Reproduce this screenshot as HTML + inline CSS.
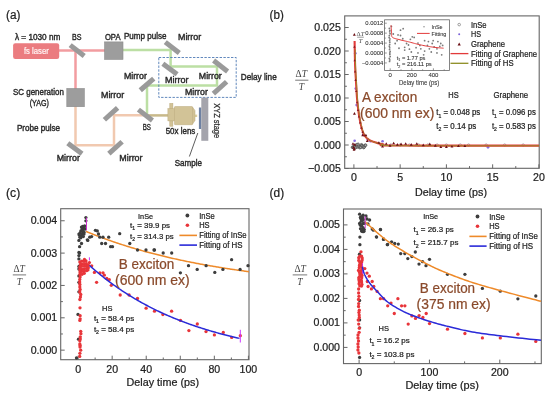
<!DOCTYPE html><html><head><meta charset="utf-8"><style>html,body{margin:0;padding:0;background:#fff;}svg{display:block;will-change:transform;}</style></head><body><svg width="550" height="395" viewBox="0 0 550 395">
<rect x="0.00" y="0.00" width="550.00" height="395.00" fill="#ffffff"/>
<text x="6.00" y="18.70" font-size="12" fill="#222" stroke="#222" stroke-width="0.22" text-anchor="start" font-family='"Liberation Sans", sans-serif' textLength="14.40" lengthAdjust="spacingAndGlyphs">(a)</text>
<line x1="59.00" y1="50.40" x2="105.00" y2="50.40" stroke="#f29ca0" stroke-width="2.5"/>
<line x1="75.50" y1="50.40" x2="75.50" y2="89.00" stroke="#f29ca0" stroke-width="2.5"/>
<polyline points="123.00,50.00 170.60,50.00 170.60,66.60 217.00,66.60 217.00,85.60 147.00,85.60 147.00,115.20" fill="none" stroke="#bcdfa4" stroke-width="2.5" stroke-linejoin="round"/>
<polyline points="75.50,106.00 75.50,145.20 114.00,145.20 114.00,115.20 146.00,115.20" fill="none" stroke="#f1c9b0" stroke-width="2.5" stroke-linejoin="round"/>
<line x1="146.00" y1="115.40" x2="168.00" y2="115.40" stroke="#c8b98a" stroke-width="2.5"/>
<rect x="13.1" y="43.3" width="46.1" height="15.6" rx="2.2" fill="#eb7c80"/>
<rect x="104.60" y="41.90" width="18.40" height="17.50" fill="#9d9d9d" stroke="#8a8a8a" stroke-width="0.6"/>
<rect x="66.80" y="88.50" width="17.50" height="18.20" fill="#9d9d9d" stroke="#8a8a8a" stroke-width="0.6"/>
<rect x="-8.90" y="-2.50" width="17.8" height="5.0" fill="#9a9a9a" transform="translate(77.20,50.60) rotate(38)"/>
<rect x="-8.90" y="-2.50" width="17.8" height="5.0" fill="#9a9a9a" transform="translate(172.30,47.60) rotate(38)"/>
<rect x="-8.90" y="-2.50" width="17.8" height="5.0" fill="#9a9a9a" transform="translate(170.00,69.00) rotate(37)"/>
<rect x="-8.90" y="-2.50" width="17.8" height="5.0" fill="#9a9a9a" transform="translate(220.60,66.00) rotate(38)"/>
<rect x="-8.90" y="-2.50" width="17.8" height="5.0" fill="#9a9a9a" transform="translate(220.00,87.70) rotate(-42)"/>
<rect x="-8.90" y="-2.50" width="17.8" height="5.0" fill="#9a9a9a" transform="translate(147.00,84.40) rotate(-41)"/>
<rect x="-8.90" y="-2.50" width="17.8" height="5.0" fill="#9a9a9a" transform="translate(145.40,115.10) rotate(38)"/>
<rect x="-8.90" y="-2.50" width="17.8" height="5.0" fill="#9a9a9a" transform="translate(111.00,113.80) rotate(-42)"/>
<rect x="-8.90" y="-2.50" width="17.8" height="5.0" fill="#9a9a9a" transform="translate(74.90,148.50) rotate(37)"/>
<rect x="-8.90" y="-2.50" width="17.8" height="5.0" fill="#9a9a9a" transform="translate(115.50,147.70) rotate(-42)"/>
<rect x="158.8" y="57.5" width="77.4" height="39.9" fill="none" stroke="#4f7bb5" stroke-width="0.9" stroke-dasharray="2.4,1.4"/>
<rect x="194.6" y="114.6" width="2.6" height="2.4" fill="#dccf9f"/>
<path d="M192.4,107.0 L195.0,110.6 L195.0,120.6 L192.4,124.2 Z" fill="#d2c397" stroke="#bba97a" stroke-width="0.5"/>
<rect x="174.4" y="106.5" width="18.2" height="18.2" rx="0.8" fill="#d2c397" stroke="#bba97a" stroke-width="0.5"/>
<rect x="169.8" y="103.4" width="3.1" height="22.8" fill="#d2c397" stroke="#bba97a" stroke-width="0.5"/>
<rect x="167.9" y="108.7" width="6.5" height="12.2" fill="#d2c397" stroke="#bba97a" stroke-width="0.5"/>
<rect x="198.90" y="107.50" width="2.40" height="21.50" fill="#6e81a2"/>
<rect x="201.30" y="97.60" width="7.00" height="43.20" fill="#a4a4ac"/>
<line x1="197.80" y1="133.00" x2="189.40" y2="156.50" stroke="#333" stroke-width="0.8"/>
<text x="14.90" y="39.70" font-size="8.4" fill="#282828" stroke="#282828" stroke-width="0.38" text-anchor="start" font-family='"Liberation Sans", sans-serif' textLength="45.50" lengthAdjust="spacingAndGlyphs">λ = 1030 nm</text>
<text x="71.90" y="39.70" font-size="8.4" fill="#282828" stroke="#282828" stroke-width="0.38" text-anchor="start" font-family='"Liberation Sans", sans-serif' textLength="9.50" lengthAdjust="spacingAndGlyphs">BS</text>
<text x="23.90" y="54.40" font-size="8.4" fill="#fff2f2" stroke="#fff2f2" stroke-width="0.22" text-anchor="start" font-family='"Liberation Sans", sans-serif' textLength="24.90" lengthAdjust="spacingAndGlyphs">fs laser</text>
<text x="104.90" y="40.30" font-size="8.4" fill="#282828" stroke="#282828" stroke-width="0.38" text-anchor="start" font-family='"Liberation Sans", sans-serif' textLength="15.60" lengthAdjust="spacingAndGlyphs">OPA</text>
<text x="124.00" y="38.60" font-size="8.4" fill="#282828" stroke="#282828" stroke-width="0.38" text-anchor="start" font-family='"Liberation Sans", sans-serif' textLength="42.40" lengthAdjust="spacingAndGlyphs">Pump pulse</text>
<text x="178.00" y="40.20" font-size="8.4" fill="#282828" stroke="#282828" stroke-width="0.38" text-anchor="start" font-family='"Liberation Sans", sans-serif' textLength="23.20" lengthAdjust="spacingAndGlyphs">Mirror</text>
<text x="164.90" y="82.70" font-size="8.4" fill="#282828" stroke="#282828" stroke-width="0.38" text-anchor="start" font-family='"Liberation Sans", sans-serif' textLength="23.50" lengthAdjust="spacingAndGlyphs">Mirror</text>
<text x="198.80" y="78.60" font-size="8.4" fill="#282828" stroke="#282828" stroke-width="0.38" text-anchor="start" font-family='"Liberation Sans", sans-serif' textLength="23.00" lengthAdjust="spacingAndGlyphs">Mirror</text>
<text x="184.90" y="94.50" font-size="8.4" fill="#282828" stroke="#282828" stroke-width="0.38" text-anchor="start" font-family='"Liberation Sans", sans-serif' textLength="23.00" lengthAdjust="spacingAndGlyphs">Mirror</text>
<text x="240.80" y="80.40" font-size="8.4" fill="#282828" stroke="#282828" stroke-width="0.38" text-anchor="start" font-family='"Liberation Sans", sans-serif' textLength="35.90" lengthAdjust="spacingAndGlyphs">Delay line</text>
<text x="123.90" y="79.00" font-size="8.4" fill="#282828" stroke="#282828" stroke-width="0.38" text-anchor="start" font-family='"Liberation Sans", sans-serif' textLength="23.00" lengthAdjust="spacingAndGlyphs">Mirror</text>
<text x="13.00" y="95.10" font-size="8.4" fill="#282828" stroke="#282828" stroke-width="0.38" text-anchor="start" font-family='"Liberation Sans", sans-serif' textLength="50.80" lengthAdjust="spacingAndGlyphs">SC generation</text>
<text x="29.70" y="106.30" font-size="8.4" fill="#282828" stroke="#282828" stroke-width="0.38" text-anchor="start" font-family='"Liberation Sans", sans-serif' textLength="19.20" lengthAdjust="spacingAndGlyphs">(YAG)</text>
<text x="101.00" y="97.80" font-size="8.4" fill="#282828" stroke="#282828" stroke-width="0.38" text-anchor="start" font-family='"Liberation Sans", sans-serif' textLength="23.20" lengthAdjust="spacingAndGlyphs">Mirror</text>
<text x="16.90" y="131.00" font-size="8.4" fill="#282828" stroke="#282828" stroke-width="0.38" text-anchor="start" font-family='"Liberation Sans", sans-serif' textLength="43.20" lengthAdjust="spacingAndGlyphs">Probe pulse</text>
<text x="142.70" y="130.30" font-size="8.4" fill="#282828" stroke="#282828" stroke-width="0.38" text-anchor="start" font-family='"Liberation Sans", sans-serif' textLength="8.20" lengthAdjust="spacingAndGlyphs">BS</text>
<text x="165.70" y="134.30" font-size="8.4" fill="#282828" stroke="#282828" stroke-width="0.38" text-anchor="start" font-family='"Liberation Sans", sans-serif' textLength="29.60" lengthAdjust="spacingAndGlyphs">50x lens</text>
<text x="0" y="0" font-size="8.4" fill="#282828" stroke="#282828" stroke-width="0.22" font-family='"Liberation Sans", sans-serif' textLength="35" lengthAdjust="spacingAndGlyphs" transform="translate(213.9,103.2) rotate(90)">XYZ stage</text>
<text x="174.70" y="165.60" font-size="8.4" fill="#282828" stroke="#282828" stroke-width="0.38" text-anchor="start" font-family='"Liberation Sans", sans-serif' textLength="27.20" lengthAdjust="spacingAndGlyphs">Sample</text>
<text x="56.70" y="161.10" font-size="8.4" fill="#282828" stroke="#282828" stroke-width="0.38" text-anchor="start" font-family='"Liberation Sans", sans-serif' textLength="23.20" lengthAdjust="spacingAndGlyphs">Mirror</text>
<text x="119.30" y="161.10" font-size="8.4" fill="#282828" stroke="#282828" stroke-width="0.38" text-anchor="start" font-family='"Liberation Sans", sans-serif' textLength="23.20" lengthAdjust="spacingAndGlyphs">Mirror</text>
<text x="269.60" y="18.90" font-size="12" fill="#222" stroke="#222" stroke-width="0.22" text-anchor="start" font-family='"Liberation Sans", sans-serif' textLength="14.20" lengthAdjust="spacingAndGlyphs">(b)</text>
<rect x="344.70" y="15.90" width="194.50" height="152.40" fill="none" stroke="#666666" stroke-width="1.1"/>
<line x1="353.90" y1="168.30" x2="353.90" y2="164.30" stroke="#666666" stroke-width="1"/>
<line x1="400.15" y1="168.30" x2="400.15" y2="164.30" stroke="#666666" stroke-width="1"/>
<line x1="446.40" y1="168.30" x2="446.40" y2="164.30" stroke="#666666" stroke-width="1"/>
<line x1="492.65" y1="168.30" x2="492.65" y2="164.30" stroke="#666666" stroke-width="1"/>
<line x1="538.90" y1="168.30" x2="538.90" y2="164.30" stroke="#666666" stroke-width="1"/>
<line x1="377.02" y1="168.30" x2="377.02" y2="166.10" stroke="#666666" stroke-width="1"/>
<line x1="423.27" y1="168.30" x2="423.27" y2="166.10" stroke="#666666" stroke-width="1"/>
<line x1="469.52" y1="168.30" x2="469.52" y2="166.10" stroke="#666666" stroke-width="1"/>
<line x1="515.77" y1="168.30" x2="515.77" y2="166.10" stroke="#666666" stroke-width="1"/>
<line x1="344.70" y1="168.50" x2="348.70" y2="168.50" stroke="#666666" stroke-width="1"/>
<line x1="344.70" y1="145.00" x2="348.70" y2="145.00" stroke="#666666" stroke-width="1"/>
<line x1="344.70" y1="121.50" x2="348.70" y2="121.50" stroke="#666666" stroke-width="1"/>
<line x1="344.70" y1="98.00" x2="348.70" y2="98.00" stroke="#666666" stroke-width="1"/>
<line x1="344.70" y1="74.50" x2="348.70" y2="74.50" stroke="#666666" stroke-width="1"/>
<line x1="344.70" y1="51.00" x2="348.70" y2="51.00" stroke="#666666" stroke-width="1"/>
<line x1="344.70" y1="27.50" x2="348.70" y2="27.50" stroke="#666666" stroke-width="1"/>
<line x1="344.70" y1="156.75" x2="346.90" y2="156.75" stroke="#666666" stroke-width="1"/>
<line x1="344.70" y1="133.25" x2="346.90" y2="133.25" stroke="#666666" stroke-width="1"/>
<line x1="344.70" y1="109.75" x2="346.90" y2="109.75" stroke="#666666" stroke-width="1"/>
<line x1="344.70" y1="86.25" x2="346.90" y2="86.25" stroke="#666666" stroke-width="1"/>
<line x1="344.70" y1="62.75" x2="346.90" y2="62.75" stroke="#666666" stroke-width="1"/>
<line x1="344.70" y1="39.25" x2="346.90" y2="39.25" stroke="#666666" stroke-width="1"/>
<text x="353.90" y="180.60" font-size="10.6" fill="#222" stroke="#222" stroke-width="0.22" text-anchor="middle" font-family='"Liberation Sans", sans-serif'>0</text>
<text x="400.15" y="180.60" font-size="10.6" fill="#222" stroke="#222" stroke-width="0.22" text-anchor="middle" font-family='"Liberation Sans", sans-serif'>5</text>
<text x="446.40" y="180.60" font-size="10.6" fill="#222" stroke="#222" stroke-width="0.22" text-anchor="middle" font-family='"Liberation Sans", sans-serif'>10</text>
<text x="492.65" y="180.60" font-size="10.6" fill="#222" stroke="#222" stroke-width="0.22" text-anchor="middle" font-family='"Liberation Sans", sans-serif'>15</text>
<text x="538.90" y="180.60" font-size="10.6" fill="#222" stroke="#222" stroke-width="0.22" text-anchor="middle" font-family='"Liberation Sans", sans-serif'>20</text>
<text x="340.80" y="172.00" font-size="10.6" fill="#222" stroke="#222" stroke-width="0.22" text-anchor="end" font-family='"Liberation Sans", sans-serif'>−0.005</text>
<text x="340.80" y="148.50" font-size="10.6" fill="#222" stroke="#222" stroke-width="0.22" text-anchor="end" font-family='"Liberation Sans", sans-serif'>0.000</text>
<text x="340.80" y="125.00" font-size="10.6" fill="#222" stroke="#222" stroke-width="0.22" text-anchor="end" font-family='"Liberation Sans", sans-serif'>0.005</text>
<text x="340.80" y="101.50" font-size="10.6" fill="#222" stroke="#222" stroke-width="0.22" text-anchor="end" font-family='"Liberation Sans", sans-serif'>0.010</text>
<text x="340.80" y="78.00" font-size="10.6" fill="#222" stroke="#222" stroke-width="0.22" text-anchor="end" font-family='"Liberation Sans", sans-serif'>0.015</text>
<text x="340.80" y="54.50" font-size="10.6" fill="#222" stroke="#222" stroke-width="0.22" text-anchor="end" font-family='"Liberation Sans", sans-serif'>0.020</text>
<text x="340.80" y="31.00" font-size="10.6" fill="#222" stroke="#222" stroke-width="0.22" text-anchor="end" font-family='"Liberation Sans", sans-serif'>0.025</text>
<text x="415.00" y="195.60" font-size="10" fill="#222" stroke="#222" stroke-width="0.22" text-anchor="start" font-family='"Liberation Sans", sans-serif' textLength="72.00" lengthAdjust="spacingAndGlyphs">Delay time (ps)</text>
<text x="301.3" y="76.6" font-size="9.5" fill="#444" text-anchor="middle" font-family='"Liberation Serif", serif'>Δ<tspan font-style="italic">T</tspan></text>
<line x1="295.20" y1="80.20" x2="308.40" y2="80.20" stroke="#555" stroke-width="0.8"/>
<text x="301.5" y="89.6" font-size="9.5" fill="#444" text-anchor="middle" font-family='"Liberation Serif", serif' font-style="italic">T</text>
<circle cx="352.45" cy="147.25" r="1.3" fill="#aaa" stroke="#444" stroke-width="0.7"/>
<circle cx="353.26" cy="147.55" r="1.3" fill="#aaa" stroke="#444" stroke-width="0.7"/>
<circle cx="353.91" cy="146.45" r="1.3" fill="#aaa" stroke="#444" stroke-width="0.7"/>
<circle cx="354.43" cy="145.91" r="1.3" fill="#aaa" stroke="#444" stroke-width="0.7"/>
<circle cx="355.12" cy="146.19" r="1.3" fill="#aaa" stroke="#444" stroke-width="0.7"/>
<circle cx="355.82" cy="147.48" r="1.3" fill="#aaa" stroke="#444" stroke-width="0.7"/>
<circle cx="356.65" cy="144.71" r="1.3" fill="#aaa" stroke="#444" stroke-width="0.7"/>
<circle cx="357.23" cy="146.98" r="1.3" fill="#aaa" stroke="#444" stroke-width="0.7"/>
<circle cx="358.11" cy="144.26" r="1.3" fill="#aaa" stroke="#444" stroke-width="0.7"/>
<circle cx="358.78" cy="146.33" r="1.3" fill="#aaa" stroke="#444" stroke-width="0.7"/>
<circle cx="359.63" cy="147.64" r="1.3" fill="#aaa" stroke="#444" stroke-width="0.7"/>
<circle cx="360.28" cy="146.73" r="1.3" fill="#aaa" stroke="#444" stroke-width="0.7"/>
<circle cx="360.71" cy="147.38" r="1.3" fill="#aaa" stroke="#444" stroke-width="0.7"/>
<circle cx="361.46" cy="144.75" r="1.3" fill="#aaa" stroke="#444" stroke-width="0.7"/>
<circle cx="362.11" cy="145.63" r="1.3" fill="#aaa" stroke="#444" stroke-width="0.7"/>
<circle cx="362.97" cy="146.42" r="1.3" fill="#aaa" stroke="#444" stroke-width="0.7"/>
<circle cx="363.63" cy="147.58" r="1.3" fill="#aaa" stroke="#444" stroke-width="0.7"/>
<circle cx="364.14" cy="147.05" r="1.3" fill="#aaa" stroke="#444" stroke-width="0.7"/>
<circle cx="365.07" cy="145.36" r="1.3" fill="#aaa" stroke="#444" stroke-width="0.7"/>
<circle cx="365.62" cy="145.19" r="1.3" fill="#aaa" stroke="#444" stroke-width="0.7"/>
<circle cx="381.65" cy="145.00" r="1.2" fill="none" stroke="#888" stroke-width="0.6"/>
<circle cx="390.90" cy="145.00" r="1.2" fill="none" stroke="#888" stroke-width="0.6"/>
<circle cx="400.15" cy="145.00" r="1.2" fill="none" stroke="#888" stroke-width="0.6"/>
<circle cx="409.40" cy="145.00" r="1.2" fill="none" stroke="#888" stroke-width="0.6"/>
<circle cx="418.65" cy="145.00" r="1.2" fill="none" stroke="#888" stroke-width="0.6"/>
<circle cx="427.90" cy="145.00" r="1.2" fill="none" stroke="#888" stroke-width="0.6"/>
<circle cx="437.15" cy="145.00" r="1.2" fill="none" stroke="#888" stroke-width="0.6"/>
<circle cx="446.40" cy="145.00" r="1.2" fill="none" stroke="#888" stroke-width="0.6"/>
<circle cx="460.27" cy="145.00" r="1.2" fill="none" stroke="#888" stroke-width="0.6"/>
<circle cx="468.60" cy="145.00" r="1.2" fill="none" stroke="#888" stroke-width="0.6"/>
<circle cx="486.17" cy="145.00" r="1.2" fill="none" stroke="#888" stroke-width="0.6"/>
<circle cx="504.67" cy="145.00" r="1.2" fill="none" stroke="#888" stroke-width="0.6"/>
<circle cx="523.17" cy="145.00" r="1.2" fill="none" stroke="#888" stroke-width="0.6"/>
<circle cx="354.64" cy="140.77" r="1.35" fill="#8a6fe0"/>
<circle cx="370.55" cy="141.24" r="1.35" fill="#8a6fe0"/>
<circle cx="382.57" cy="141.24" r="1.35" fill="#8a6fe0"/>
<circle cx="488.02" cy="147.35" r="1.35" fill="#8a6fe0"/>
<circle cx="355.75" cy="88.60" r="1.35" fill="#8a6fe0"/>
<circle cx="355.29" cy="53.35" r="1.35" fill="#8a6fe0"/>
<circle cx="356.67" cy="105.05" r="1.35" fill="#8a6fe0"/>
<circle cx="363.15" cy="134.66" r="1.35" fill="#8a6fe0"/>
<circle cx="367.77" cy="139.36" r="1.35" fill="#8a6fe0"/>
<polyline points="354.60,41.00 354.63,42.47 354.66,44.41 354.70,46.72 354.75,49.30 354.80,52.06 354.85,54.90 354.91,57.71 354.97,60.39 355.04,62.86 355.10,65.00 355.17,66.85 355.24,68.53 355.31,70.07 355.38,71.50 355.46,72.88 355.54,74.22 355.63,75.56 355.72,76.95 355.81,78.42 355.90,80.00 356.00,81.71 356.10,83.50 356.20,85.37 356.31,87.27 356.42,89.19 356.53,91.09 356.65,92.95 356.76,94.74 356.88,96.43 357.00,98.00 357.12,99.46 357.25,100.85 357.38,102.17 357.51,103.42 357.64,104.62 357.78,105.78 357.91,106.88 358.04,107.95 358.17,108.99 358.30,110.00 358.42,110.97 358.54,111.87 358.66,112.72 358.77,113.52 358.89,114.29 359.00,115.04 359.12,115.78 359.24,116.51 359.37,117.25 359.50,118.00 359.64,118.77 359.78,119.53 359.92,120.29 360.07,121.05 360.23,121.79 360.38,122.53 360.53,123.25 360.69,123.95 360.84,124.64 361.00,125.30 361.15,125.94 361.31,126.56 361.46,127.17 361.61,127.76 361.77,128.33 361.93,128.89 362.09,129.44 362.25,129.97 362.42,130.49 362.60,131.00 362.78,131.50 362.95,131.98 363.13,132.44 363.30,132.89 363.49,133.33 363.68,133.76 363.88,134.18 364.10,134.59 364.34,135.00 364.60,135.40 364.87,135.80 365.16,136.18 365.45,136.56 365.76,136.94 366.09,137.30 366.43,137.66 366.79,138.00 367.17,138.34 367.57,138.68 368.00,139.00 368.44,139.31 368.88,139.62 369.34,139.91 369.81,140.19 370.31,140.47 370.84,140.74 371.41,141.01 372.02,141.27 372.68,141.54 373.40,141.80 374.18,142.07 375.01,142.34 375.90,142.61 376.82,142.88 377.79,143.15 378.79,143.41 379.81,143.66 380.86,143.89 381.92,144.10 383.00,144.30 383.51,144.48 383.13,144.64 382.27,144.79 381.29,144.93 380.60,145.05 380.58,145.16 381.62,145.26 384.11,145.35 388.44,145.43 395.00,145.50 404.70,145.55 417.66,145.59 433.03,145.61 450.01,145.62 467.75,145.62 485.43,145.62 502.23,145.61 517.30,145.60 529.84,145.60 539.00,145.60" fill="none" stroke="#e23a3a" stroke-width="2.1" stroke-linejoin="round"/>
<polyline points="355.15,49.50 355.20,52.26 355.25,55.10 355.31,57.91 355.37,60.59 355.44,63.06 355.50,65.20 355.57,67.05 355.64,68.73 355.71,70.27 355.78,71.70 355.86,73.08 355.94,74.42 356.03,75.76 356.12,77.15 356.21,78.62 356.30,80.20 356.40,81.91 356.50,83.70 356.60,85.57 356.71,87.47 356.82,89.39 356.93,91.29 357.05,93.15 357.16,94.94 357.28,96.63 357.40,98.20 357.52,99.66 357.65,101.05 357.78,102.37 357.91,103.62 358.04,104.83 358.18,105.98 358.31,107.08 358.44,108.15 358.57,109.19 358.70,110.20 358.82,111.17 358.94,112.07 359.06,112.92 359.17,113.72 359.29,114.49 359.40,115.24 359.52,115.98 359.64,116.71 359.77,117.45 359.90,118.20 360.04,118.97 360.18,119.73 360.32,120.49 360.47,121.25 360.62,121.99 360.78,122.73 360.93,123.45 361.09,124.15 361.24,124.84 361.40,125.50 361.55,126.14 361.71,126.76 361.86,127.37 362.01,127.96 362.17,128.53 362.33,129.09 362.49,129.64 362.65,130.17 362.82,130.69 363.00,131.20 363.18,131.70 363.35,132.18 363.53,132.64 363.70,133.09 363.89,133.53 364.08,133.96 364.28,134.38 364.50,134.79 364.74,135.20 365.00,135.60 365.27,136.00 365.56,136.38 365.85,136.76 366.16,137.14 366.49,137.50 366.83,137.86 367.19,138.20 367.57,138.54 367.97,138.88 368.40,139.20 368.84,139.51 369.28,139.82 369.74,140.11 370.21,140.39 370.71,140.67 371.24,140.94 371.81,141.21 372.42,141.47 373.08,141.74 373.80,142.00 374.58,142.27 375.41,142.54 376.30,142.81 377.22,143.08 378.19,143.35 379.19,143.61 380.21,143.85 381.26,144.09 382.32,144.30 383.40,144.50 383.91,144.68 383.53,144.84 382.67,144.99 381.69,145.13 381.00,145.25 380.98,145.36 382.02,145.46 384.51,145.55 388.84,145.63 395.40,145.70 405.10,145.75 418.06,145.79 433.43,145.81 450.41,145.82 468.15,145.82 485.83,145.82 502.63,145.81 517.70,145.80 530.24,145.80 539.40,145.80" fill="none" stroke="#9a8a2a" stroke-width="1.0" stroke-linejoin="round"/>
<path d="M354.36,33.10 L355.81,35.71 L352.91,35.71 Z" fill="#6b0f14"/>
<path d="M354.45,112.06 L355.90,114.67 L353.00,114.67 Z" fill="#6b0f14"/>
<path d="M352.97,142.14 L354.42,144.75 L351.52,144.75 Z" fill="#6b0f14"/>
<path d="M353.44,145.90 L354.89,148.51 L351.99,148.51 Z" fill="#6b0f14"/>
<path d="M354.08,148.25 L355.53,150.86 L352.63,150.86 Z" fill="#6b0f14"/>
<path d="M354.36,147.31 L355.81,149.92 L352.91,149.92 Z" fill="#6b0f14"/>
<path d="M354.82,143.08 L356.27,145.69 L353.38,145.69 Z" fill="#6b0f14"/>
<path d="M362.69,133.68 L364.14,136.29 L361.24,136.29 Z" fill="#6b0f14"/>
<path d="M365.92,133.68 L367.37,136.29 L364.47,136.29 Z" fill="#6b0f14"/>
<path d="M367.31,139.32 L368.76,141.93 L365.86,141.93 Z" fill="#6b0f14"/>
<path d="M378.88,141.20 L380.32,143.81 L377.43,143.81 Z" fill="#6b0f14"/>
<path d="M382.57,144.96 L384.02,147.57 L381.12,147.57 Z" fill="#6b0f14"/>
<path d="M386.27,142.14 L387.72,144.75 L384.82,144.75 Z" fill="#6b0f14"/>
<path d="M389.97,144.02 L391.42,146.63 L388.52,146.63 Z" fill="#6b0f14"/>
<path d="M393.67,141.67 L395.12,144.28 L392.22,144.28 Z" fill="#6b0f14"/>
<path d="M397.38,143.08 L398.82,145.69 L395.93,145.69 Z" fill="#6b0f14"/>
<path d="M401.07,142.61 L402.52,145.22 L399.62,145.22 Z" fill="#6b0f14"/>
<path d="M405.70,142.14 L407.15,144.75 L404.25,144.75 Z" fill="#6b0f14"/>
<path d="M411.25,143.08 L412.70,145.69 L409.80,145.69 Z" fill="#6b0f14"/>
<path d="M416.80,142.14 L418.25,144.75 L415.35,144.75 Z" fill="#6b0f14"/>
<path d="M423.27,143.55 L424.72,146.16 L421.82,146.16 Z" fill="#6b0f14"/>
<path d="M429.75,142.61 L431.20,145.22 L428.30,145.22 Z" fill="#6b0f14"/>
<path d="M435.30,144.02 L436.75,146.63 L433.85,146.63 Z" fill="#6b0f14"/>
<path d="M440.85,145.43 L442.30,148.04 L439.40,148.04 Z" fill="#6b0f14"/>
<path d="M446.40,145.43 L447.85,148.04 L444.95,148.04 Z" fill="#6b0f14"/>
<path d="M451.95,144.96 L453.40,147.57 L450.50,147.57 Z" fill="#6b0f14"/>
<path d="M458.42,144.49 L459.87,147.10 L456.97,147.10 Z" fill="#6b0f14"/>
<path d="M464.90,144.49 L466.35,147.10 L463.45,147.10 Z" fill="#6b0f14"/>
<path d="M354.40,45.52 L355.60,47.68 L353.20,47.68 Z" fill="#8b1a20"/>
<path d="M354.67,59.19 L355.87,61.35 L353.47,61.35 Z" fill="#8b1a20"/>
<path d="M355.08,70.30 L356.28,72.46 L353.88,72.46 Z" fill="#8b1a20"/>
<path d="M355.60,78.80 L356.80,80.96 L354.40,80.96 Z" fill="#8b1a20"/>
<path d="M356.23,89.89 L357.43,92.05 L355.03,92.05 Z" fill="#8b1a20"/>
<path d="M357.08,100.97 L358.28,103.13 L355.88,103.13 Z" fill="#8b1a20"/>
<path d="M358.00,108.80 L359.20,110.96 L356.80,110.96 Z" fill="#8b1a20"/>
<path d="M358.94,115.31 L360.14,117.47 L357.74,117.47 Z" fill="#8b1a20"/>
<path d="M360.08,121.33 L361.28,123.49 L358.88,123.49 Z" fill="#8b1a20"/>
<path d="M361.31,126.56 L362.51,128.72 L360.11,128.72 Z" fill="#8b1a20"/>
<path d="M362.65,130.78 L363.85,132.94 L361.45,132.94 Z" fill="#8b1a20"/>
<path d="M364.30,134.20 L365.50,136.36 L363.10,136.36 Z" fill="#8b1a20"/>
<rect x="384.6" y="19.8" width="64.80" height="50.70" fill="#fff" stroke="#666666" stroke-width="0.8"/>
<line x1="390.20" y1="70.50" x2="390.20" y2="68.30" stroke="#666666" stroke-width="0.7"/>
<text x="390.20" y="76.70" font-size="6.0" fill="#333" stroke="#333" stroke-width="0.08" text-anchor="middle" font-family='"Liberation Sans", sans-serif'>0</text>
<line x1="411.80" y1="70.50" x2="411.80" y2="68.30" stroke="#666666" stroke-width="0.7"/>
<text x="411.80" y="76.70" font-size="6.0" fill="#333" stroke="#333" stroke-width="0.08" text-anchor="middle" font-family='"Liberation Sans", sans-serif'>200</text>
<line x1="433.40" y1="70.50" x2="433.40" y2="68.30" stroke="#666666" stroke-width="0.7"/>
<text x="433.40" y="76.70" font-size="6.0" fill="#333" stroke="#333" stroke-width="0.08" text-anchor="middle" font-family='"Liberation Sans", sans-serif'>400</text>
<line x1="401.00" y1="70.50" x2="401.00" y2="69.30" stroke="#666666" stroke-width="0.7"/>
<line x1="422.60" y1="70.50" x2="422.60" y2="69.30" stroke="#666666" stroke-width="0.7"/>
<line x1="444.20" y1="70.50" x2="444.20" y2="69.30" stroke="#666666" stroke-width="0.7"/>
<line x1="384.60" y1="23.20" x2="386.80" y2="23.20" stroke="#666666" stroke-width="0.7"/>
<text x="383.40" y="25.30" font-size="5.9" fill="#333" stroke="#333" stroke-width="0.08" text-anchor="end" font-family='"Liberation Sans", sans-serif'>0.0012</text>
<line x1="384.60" y1="33.13" x2="386.80" y2="33.13" stroke="#666666" stroke-width="0.7"/>
<text x="383.40" y="35.23" font-size="5.9" fill="#333" stroke="#333" stroke-width="0.08" text-anchor="end" font-family='"Liberation Sans", sans-serif'>0.0008</text>
<line x1="384.60" y1="43.07" x2="386.80" y2="43.07" stroke="#666666" stroke-width="0.7"/>
<text x="383.40" y="45.17" font-size="5.9" fill="#333" stroke="#333" stroke-width="0.08" text-anchor="end" font-family='"Liberation Sans", sans-serif'>0.0004</text>
<line x1="384.60" y1="53.00" x2="386.80" y2="53.00" stroke="#666666" stroke-width="0.7"/>
<text x="383.40" y="55.10" font-size="5.9" fill="#333" stroke="#333" stroke-width="0.08" text-anchor="end" font-family='"Liberation Sans", sans-serif'>0.0000</text>
<line x1="384.60" y1="62.93" x2="386.80" y2="62.93" stroke="#666666" stroke-width="0.7"/>
<text x="383.40" y="65.03" font-size="5.9" fill="#333" stroke="#333" stroke-width="0.08" text-anchor="end" font-family='"Liberation Sans", sans-serif'>−0.0004</text>
<line x1="384.60" y1="28.17" x2="385.80" y2="28.17" stroke="#666666" stroke-width="0.7"/>
<line x1="384.60" y1="38.10" x2="385.80" y2="38.10" stroke="#666666" stroke-width="0.7"/>
<line x1="384.60" y1="48.03" x2="385.80" y2="48.03" stroke="#666666" stroke-width="0.7"/>
<line x1="384.60" y1="57.97" x2="385.80" y2="57.97" stroke="#666666" stroke-width="0.7"/>
<text x="399.00" y="85.00" font-size="6.5" fill="#333" stroke="#333" stroke-width="0.08" text-anchor="start" font-family='"Liberation Sans", sans-serif' textLength="40.20" lengthAdjust="spacingAndGlyphs">Delay time (ps)</text>
<text x="360.4" y="36.0" font-size="6.5" fill="#444" text-anchor="middle" font-family='"Liberation Serif", serif'>Δ<tspan font-style="italic">T</tspan></text>
<line x1="357.20" y1="37.20" x2="363.80" y2="37.20" stroke="#555" stroke-width="0.6"/>
<text x="360.6" y="42.6" font-size="6.5" fill="#444" text-anchor="middle" font-family='"Liberation Serif", serif' font-style="italic">T</text>
<circle cx="389.36" cy="28.47" r="0.9" fill="#7a7a7a"/>
<circle cx="389.84" cy="30.43" r="0.9" fill="#7a7a7a"/>
<circle cx="389.69" cy="31.85" r="0.9" fill="#7a7a7a"/>
<circle cx="390.05" cy="33.77" r="0.9" fill="#7a7a7a"/>
<circle cx="389.35" cy="35.64" r="0.9" fill="#7a7a7a"/>
<circle cx="389.14" cy="37.54" r="0.9" fill="#7a7a7a"/>
<circle cx="389.91" cy="38.95" r="0.9" fill="#7a7a7a"/>
<circle cx="389.59" cy="40.54" r="0.9" fill="#7a7a7a"/>
<circle cx="389.80" cy="42.22" r="0.9" fill="#7a7a7a"/>
<circle cx="389.69" cy="44.41" r="0.9" fill="#7a7a7a"/>
<circle cx="389.38" cy="46.23" r="0.9" fill="#7a7a7a"/>
<circle cx="389.71" cy="47.87" r="0.9" fill="#7a7a7a"/>
<circle cx="389.55" cy="49.55" r="0.9" fill="#7a7a7a"/>
<circle cx="390.13" cy="51.45" r="0.9" fill="#7a7a7a"/>
<circle cx="389.80" cy="52.98" r="0.9" fill="#7a7a7a"/>
<circle cx="389.84" cy="54.49" r="0.9" fill="#7a7a7a"/>
<circle cx="390.19" cy="56.59" r="0.9" fill="#7a7a7a"/>
<circle cx="389.34" cy="58.44" r="0.9" fill="#7a7a7a"/>
<circle cx="389.80" cy="59.93" r="0.9" fill="#7a7a7a"/>
<circle cx="389.55" cy="61.46" r="0.9" fill="#7a7a7a"/>
<circle cx="400.51" cy="30.19" r="0.9" fill="#7a7a7a"/>
<circle cx="403.16" cy="28.67" r="0.9" fill="#7a7a7a"/>
<circle cx="398.04" cy="34.94" r="0.9" fill="#7a7a7a"/>
<circle cx="400.51" cy="35.51" r="0.9" fill="#7a7a7a"/>
<circle cx="412.28" cy="36.83" r="0.9" fill="#7a7a7a"/>
<circle cx="414.18" cy="37.40" r="0.9" fill="#7a7a7a"/>
<circle cx="395.19" cy="43.48" r="0.9" fill="#7a7a7a"/>
<circle cx="406.58" cy="43.48" r="0.9" fill="#7a7a7a"/>
<circle cx="408.48" cy="45.00" r="0.9" fill="#7a7a7a"/>
<circle cx="417.97" cy="43.10" r="0.9" fill="#7a7a7a"/>
<circle cx="424.62" cy="40.63" r="0.9" fill="#7a7a7a"/>
<circle cx="428.41" cy="41.58" r="0.9" fill="#7a7a7a"/>
<circle cx="433.16" cy="40.63" r="0.9" fill="#7a7a7a"/>
<circle cx="437.91" cy="41.58" r="0.9" fill="#7a7a7a"/>
<circle cx="440.76" cy="43.48" r="0.9" fill="#7a7a7a"/>
<circle cx="398.99" cy="48.23" r="0.9" fill="#7a7a7a"/>
<circle cx="404.68" cy="47.28" r="0.9" fill="#7a7a7a"/>
<circle cx="409.43" cy="49.18" r="0.9" fill="#7a7a7a"/>
<circle cx="416.07" cy="47.66" r="0.9" fill="#7a7a7a"/>
<circle cx="420.82" cy="48.80" r="0.9" fill="#7a7a7a"/>
<circle cx="424.62" cy="51.07" r="0.9" fill="#7a7a7a"/>
<circle cx="429.36" cy="48.80" r="0.9" fill="#7a7a7a"/>
<circle cx="434.11" cy="46.90" r="0.9" fill="#7a7a7a"/>
<circle cx="436.96" cy="48.80" r="0.9" fill="#7a7a7a"/>
<circle cx="439.81" cy="46.33" r="0.9" fill="#7a7a7a"/>
<circle cx="441.70" cy="54.87" r="0.9" fill="#7a7a7a"/>
<circle cx="404.68" cy="50.12" r="0.9" fill="#7a7a7a"/>
<circle cx="411.33" cy="52.02" r="0.9" fill="#7a7a7a"/>
<circle cx="417.97" cy="52.97" r="0.9" fill="#7a7a7a"/>
<circle cx="423.67" cy="54.87" r="0.9" fill="#7a7a7a"/>
<circle cx="431.26" cy="52.02" r="0.9" fill="#7a7a7a"/>
<circle cx="436.96" cy="52.97" r="0.9" fill="#7a7a7a"/>
<circle cx="391.39" cy="26.39" r="0.9" fill="#7a7a7a"/>
<circle cx="393.29" cy="33.99" r="0.9" fill="#7a7a7a"/>
<circle cx="397.09" cy="40.63" r="0.9" fill="#7a7a7a"/>
<circle cx="402.78" cy="38.73" r="0.9" fill="#7a7a7a"/>
<circle cx="410.38" cy="39.30" r="0.9" fill="#7a7a7a"/>
<circle cx="419.87" cy="45.38" r="0.9" fill="#7a7a7a"/>
<circle cx="427.47" cy="45.38" r="0.9" fill="#7a7a7a"/>
<circle cx="432.21" cy="43.48" r="0.9" fill="#7a7a7a"/>
<circle cx="442.65" cy="45.38" r="0.9" fill="#7a7a7a"/>
<polyline points="391.00,25.20 391.04,25.82 391.10,26.68 391.17,27.70 391.24,28.82 391.33,29.98 391.41,31.11 391.51,32.13 391.60,33.00 391.65,33.73 391.65,34.39 391.63,34.99 391.62,35.54 391.67,36.05 391.80,36.52 392.07,36.97 392.50,37.40 393.11,37.80 393.89,38.15 394.79,38.46 395.77,38.75 396.82,39.02 397.90,39.27 398.97,39.53 400.00,39.80 401.01,40.07 402.03,40.32 403.07,40.56 404.12,40.79 405.20,41.03 406.28,41.27 407.38,41.53 408.50,41.80 409.64,42.09 410.80,42.40 411.99,42.72 413.19,43.05 414.39,43.38 415.60,43.70 416.81,44.01 418.00,44.30 419.19,44.58 420.40,44.85 421.61,45.12 422.81,45.38 424.01,45.63 425.20,45.87 426.36,46.09 427.50,46.30 428.62,46.49 429.72,46.67 430.80,46.83 431.87,46.98 432.92,47.12 433.96,47.25 434.99,47.38 436.00,47.50 437.05,47.62 438.14,47.73 439.25,47.83 440.33,47.92 441.35,48.01 442.26,48.09 443.02,48.15 443.60,48.20" fill="none" stroke="#e23a3a" stroke-width="1.0" stroke-linejoin="round"/>
<circle cx="424.00" cy="26.80" r="0.75" fill="#8a8a8a"/>
<text x="431.40" y="29.00" font-size="6.2" fill="#333" stroke="#333" stroke-width="0.08" text-anchor="start" font-family='"Liberation Sans", sans-serif' textLength="11.20" lengthAdjust="spacingAndGlyphs">InSe</text>
<line x1="417.00" y1="33.40" x2="429.70" y2="33.40" stroke="#e23a3a" stroke-width="1.0"/>
<text x="431.40" y="35.60" font-size="6.2" fill="#333" stroke="#333" stroke-width="0.08" text-anchor="start" font-family='"Liberation Sans", sans-serif' textLength="14.80" lengthAdjust="spacingAndGlyphs">Fitting</text>
<text x="396.70" y="59.60" font-size="6.2" fill="#333" stroke="#333" stroke-width="0.1" font-family='"Liberation Sans", sans-serif' textLength="28.70" lengthAdjust="spacingAndGlyphs">t<tspan font-size="4.03" dy="1.86">1</tspan><tspan dy="-1.86"> = 1.77 ps</tspan></text>
<text x="396.70" y="66.40" font-size="6.2" fill="#333" stroke="#333" stroke-width="0.1" font-family='"Liberation Sans", sans-serif' textLength="35.00" lengthAdjust="spacingAndGlyphs">t<tspan font-size="4.03" dy="1.86">2</tspan><tspan dy="-1.86"> = 216.11 ps</tspan></text>
<circle cx="459.2" cy="24.6" r="1.3" fill="none" stroke="#777" stroke-width="0.7"/>
<circle cx="459.20" cy="34.30" r="1.0" fill="#7a62d8"/>
<path d="M459.20,42.60 L460.80,45.48 L457.60,45.48 Z" fill="#6b0f14"/>
<line x1="450.50" y1="53.60" x2="468.40" y2="53.60" stroke="#e23a3a" stroke-width="1.3"/>
<line x1="450.50" y1="63.30" x2="468.40" y2="63.30" stroke="#8d8d22" stroke-width="1.3"/>
<text x="471.00" y="27.60" font-size="8.5" fill="#222" stroke="#222" stroke-width="0.22" text-anchor="start" font-family='"Liberation Sans", sans-serif' textLength="15.60" lengthAdjust="spacingAndGlyphs">InSe</text>
<text x="471.00" y="37.30" font-size="8.5" fill="#222" stroke="#222" stroke-width="0.22" text-anchor="start" font-family='"Liberation Sans", sans-serif' textLength="10.00" lengthAdjust="spacingAndGlyphs">HS</text>
<text x="471.00" y="47.00" font-size="8.5" fill="#222" stroke="#222" stroke-width="0.22" text-anchor="start" font-family='"Liberation Sans", sans-serif' textLength="34.00" lengthAdjust="spacingAndGlyphs">Graphene</text>
<text x="471.00" y="56.60" font-size="8.5" fill="#222" stroke="#222" stroke-width="0.22" text-anchor="start" font-family='"Liberation Sans", sans-serif' textLength="66.00" lengthAdjust="spacingAndGlyphs">Fitting of Graphene</text>
<text x="471.00" y="66.30" font-size="8.5" fill="#222" stroke="#222" stroke-width="0.22" text-anchor="start" font-family='"Liberation Sans", sans-serif' textLength="42.60" lengthAdjust="spacingAndGlyphs">Fitting of HS</text>
<text x="362.00" y="101.70" font-size="13.8" fill="#8a4a2b" stroke="#8a4a2b" stroke-width="0.22" text-anchor="start" font-family='"Liberation Sans", sans-serif' textLength="55.20" lengthAdjust="spacingAndGlyphs">A exciton</text>
<text x="360.00" y="117.60" font-size="13.8" fill="#8a4a2b" stroke="#8a4a2b" stroke-width="0.22" text-anchor="start" font-family='"Liberation Sans", sans-serif' textLength="74.40" lengthAdjust="spacingAndGlyphs">(600 nm ex)</text>
<text x="448.30" y="97.50" font-size="8.3" fill="#222" stroke="#222" stroke-width="0.22" text-anchor="start" font-family='"Liberation Sans", sans-serif' textLength="10.40" lengthAdjust="spacingAndGlyphs">HS</text>
<text x="493.50" y="97.50" font-size="8.3" fill="#222" stroke="#222" stroke-width="0.22" text-anchor="start" font-family='"Liberation Sans", sans-serif' textLength="34.60" lengthAdjust="spacingAndGlyphs">Graphene</text>
<text x="436.30" y="115.30" font-size="8.3" fill="#222" stroke="#222" stroke-width="0.22" font-family='"Liberation Sans", sans-serif' textLength="44.00" lengthAdjust="spacingAndGlyphs">t<tspan font-size="5.40" dy="2.49">1</tspan><tspan dy="-2.49"> = 0.048 ps</tspan></text>
<text x="436.30" y="128.90" font-size="8.3" fill="#222" stroke="#222" stroke-width="0.22" font-family='"Liberation Sans", sans-serif' textLength="40.00" lengthAdjust="spacingAndGlyphs">t<tspan font-size="5.40" dy="2.49">2</tspan><tspan dy="-2.49"> = 0.14 ps</tspan></text>
<text x="491.90" y="115.30" font-size="8.3" fill="#222" stroke="#222" stroke-width="0.22" font-family='"Liberation Sans", sans-serif' textLength="44.00" lengthAdjust="spacingAndGlyphs">t<tspan font-size="5.40" dy="2.49">1</tspan><tspan dy="-2.49"> = 0.096 ps</tspan></text>
<text x="491.90" y="128.90" font-size="8.3" fill="#222" stroke="#222" stroke-width="0.22" font-family='"Liberation Sans", sans-serif' textLength="44.00" lengthAdjust="spacingAndGlyphs">t<tspan font-size="5.40" dy="2.49">2</tspan><tspan dy="-2.49"> = 0.583 ps</tspan></text>
<text x="6.00" y="196.80" font-size="12" fill="#222" stroke="#222" stroke-width="0.22" text-anchor="start" font-family='"Liberation Sans", sans-serif' textLength="14.20" lengthAdjust="spacingAndGlyphs">(c)</text>
<rect x="60.70" y="208.70" width="188.30" height="151.00" fill="none" stroke="#666666" stroke-width="1.1"/>
<line x1="78.10" y1="359.70" x2="78.10" y2="355.70" stroke="#666666" stroke-width="1"/>
<line x1="112.16" y1="359.70" x2="112.16" y2="355.70" stroke="#666666" stroke-width="1"/>
<line x1="146.22" y1="359.70" x2="146.22" y2="355.70" stroke="#666666" stroke-width="1"/>
<line x1="180.28" y1="359.70" x2="180.28" y2="355.70" stroke="#666666" stroke-width="1"/>
<line x1="214.34" y1="359.70" x2="214.34" y2="355.70" stroke="#666666" stroke-width="1"/>
<line x1="248.40" y1="359.70" x2="248.40" y2="355.70" stroke="#666666" stroke-width="1"/>
<line x1="95.13" y1="359.70" x2="95.13" y2="357.50" stroke="#666666" stroke-width="1"/>
<line x1="129.19" y1="359.70" x2="129.19" y2="357.50" stroke="#666666" stroke-width="1"/>
<line x1="163.25" y1="359.70" x2="163.25" y2="357.50" stroke="#666666" stroke-width="1"/>
<line x1="197.31" y1="359.70" x2="197.31" y2="357.50" stroke="#666666" stroke-width="1"/>
<line x1="231.37" y1="359.70" x2="231.37" y2="357.50" stroke="#666666" stroke-width="1"/>
<line x1="60.70" y1="350.15" x2="64.70" y2="350.15" stroke="#666666" stroke-width="1"/>
<line x1="60.70" y1="317.80" x2="64.70" y2="317.80" stroke="#666666" stroke-width="1"/>
<line x1="60.70" y1="285.45" x2="64.70" y2="285.45" stroke="#666666" stroke-width="1"/>
<line x1="60.70" y1="253.10" x2="64.70" y2="253.10" stroke="#666666" stroke-width="1"/>
<line x1="60.70" y1="220.75" x2="64.70" y2="220.75" stroke="#666666" stroke-width="1"/>
<line x1="60.70" y1="333.97" x2="62.90" y2="333.97" stroke="#666666" stroke-width="1"/>
<line x1="60.70" y1="301.62" x2="62.90" y2="301.62" stroke="#666666" stroke-width="1"/>
<line x1="60.70" y1="269.27" x2="62.90" y2="269.27" stroke="#666666" stroke-width="1"/>
<line x1="60.70" y1="236.92" x2="62.90" y2="236.92" stroke="#666666" stroke-width="1"/>
<text x="78.10" y="372.90" font-size="10.6" fill="#222" stroke="#222" stroke-width="0.22" text-anchor="middle" font-family='"Liberation Sans", sans-serif'>0</text>
<text x="112.16" y="372.90" font-size="10.6" fill="#222" stroke="#222" stroke-width="0.22" text-anchor="middle" font-family='"Liberation Sans", sans-serif'>20</text>
<text x="146.22" y="372.90" font-size="10.6" fill="#222" stroke="#222" stroke-width="0.22" text-anchor="middle" font-family='"Liberation Sans", sans-serif'>40</text>
<text x="180.28" y="372.90" font-size="10.6" fill="#222" stroke="#222" stroke-width="0.22" text-anchor="middle" font-family='"Liberation Sans", sans-serif'>60</text>
<text x="214.34" y="372.90" font-size="10.6" fill="#222" stroke="#222" stroke-width="0.22" text-anchor="middle" font-family='"Liberation Sans", sans-serif'>80</text>
<text x="248.40" y="372.90" font-size="10.6" fill="#222" stroke="#222" stroke-width="0.22" text-anchor="middle" font-family='"Liberation Sans", sans-serif'>100</text>
<text x="57.20" y="353.65" font-size="10.6" fill="#222" stroke="#222" stroke-width="0.22" text-anchor="end" font-family='"Liberation Sans", sans-serif'>0.000</text>
<text x="57.20" y="321.30" font-size="10.6" fill="#222" stroke="#222" stroke-width="0.22" text-anchor="end" font-family='"Liberation Sans", sans-serif'>0.001</text>
<text x="57.20" y="288.95" font-size="10.6" fill="#222" stroke="#222" stroke-width="0.22" text-anchor="end" font-family='"Liberation Sans", sans-serif'>0.002</text>
<text x="57.20" y="256.60" font-size="10.6" fill="#222" stroke="#222" stroke-width="0.22" text-anchor="end" font-family='"Liberation Sans", sans-serif'>0.003</text>
<text x="57.20" y="224.25" font-size="10.6" fill="#222" stroke="#222" stroke-width="0.22" text-anchor="end" font-family='"Liberation Sans", sans-serif'>0.004</text>
<text x="126.60" y="386.00" font-size="10" fill="#222" stroke="#222" stroke-width="0.22" text-anchor="start" font-family='"Liberation Sans", sans-serif' textLength="72.40" lengthAdjust="spacingAndGlyphs">Delay time (ps)</text>
<text x="19.1" y="271.5" font-size="9.5" fill="#444" text-anchor="middle" font-family='"Liberation Serif", serif'>Δ<tspan font-style="italic">T</tspan></text>
<line x1="12.80" y1="274.90" x2="26.10" y2="274.90" stroke="#555" stroke-width="0.8"/>
<text x="19.5" y="284.6" font-size="9.5" fill="#444" text-anchor="middle" font-family='"Liberation Serif", serif' font-style="italic">T</text>
<polyline points="85.90,231.38 86.90,231.79 87.90,232.21 88.90,232.61 89.90,233.02 90.90,233.42 91.90,233.82 92.90,234.22 93.90,234.61 94.90,235.00 95.90,235.39 96.90,235.78 97.90,236.16 98.90,236.54 99.90,236.92 100.90,237.29 101.90,237.67 102.90,238.04 103.90,238.40 104.90,238.77 105.90,239.13 106.90,239.49 107.90,239.85 108.90,240.20 109.90,240.55 110.90,240.90 111.90,241.25 112.90,241.60 113.90,241.94 114.90,242.28 115.90,242.62 116.90,242.95 117.90,243.28 118.90,243.62 119.90,243.94 120.90,244.27 121.90,244.59 122.90,244.91 123.90,245.23 124.90,245.55 125.90,245.87 126.90,246.18 127.90,246.49 128.90,246.80 129.90,247.10 130.90,247.41 131.90,247.71 132.90,248.01 133.90,248.30 134.90,248.60 135.90,248.89 136.90,249.18 137.90,249.47 138.90,249.76 139.90,250.05 140.90,250.33 141.90,250.61 142.90,250.89 143.90,251.17 144.90,251.44 145.90,251.71 146.90,251.99 147.90,252.26 148.90,252.52 149.90,252.79 150.90,253.05 151.90,253.31 152.90,253.58 153.90,253.83 154.90,254.09 155.90,254.34 156.90,254.60 157.90,254.85 158.90,255.10 159.90,255.35 160.90,255.59 161.90,255.84 162.90,256.08 163.90,256.32 164.90,256.56 165.90,256.80 166.90,257.03 167.90,257.27 168.90,257.50 169.90,257.73 170.90,257.96 171.90,258.19 172.90,258.41 173.90,258.64 174.90,258.86 175.90,259.08 176.90,259.30 177.90,259.52 178.90,259.74 179.90,259.95 180.90,260.16 181.90,260.38 182.90,260.59 183.90,260.80 184.90,261.00 185.90,261.21 186.90,261.42 187.90,261.62 188.90,261.82 189.90,262.02 190.90,262.22 191.90,262.42 192.90,262.61 193.90,262.81 194.90,263.00 195.90,263.20 196.90,263.39 197.90,263.58 198.90,263.76 199.90,263.95 200.90,264.14 201.90,264.32 202.90,264.50 203.90,264.69 204.90,264.87 205.90,265.05 206.90,265.22 207.90,265.40 208.90,265.58 209.90,265.75 210.90,265.92 211.90,266.09 212.90,266.27 213.90,266.43 214.90,266.60 215.90,266.77 216.90,266.94 217.90,267.10 218.90,267.26 219.90,267.43 220.90,267.59 221.90,267.75 222.90,267.91 223.90,268.06 224.90,268.22 225.90,268.38 226.90,268.53 227.90,268.69 228.90,268.84 229.90,268.99 230.90,269.14 231.90,269.29 232.90,269.44 233.90,269.58 234.90,269.73 235.90,269.87 236.90,270.02 237.90,270.16 238.90,270.30 239.90,270.45 240.90,270.59 241.90,270.72 242.90,270.86 243.90,271.00 244.90,271.14 245.90,271.27 246.90,271.41 247.90,271.54 248.90,271.67" fill="none" stroke="#ee8a2a" stroke-width="1.5" stroke-linejoin="round"/>
<circle cx="85.90" cy="217.60" r="1.65" fill="#3d3d3d"/>
<circle cx="85.90" cy="220.80" r="1.65" fill="#3d3d3d"/>
<circle cx="78.90" cy="240.40" r="1.65" fill="#3d3d3d"/>
<circle cx="81.50" cy="243.50" r="1.65" fill="#3d3d3d"/>
<circle cx="79.60" cy="246.70" r="1.65" fill="#3d3d3d"/>
<circle cx="79.60" cy="253.00" r="1.65" fill="#3d3d3d"/>
<circle cx="78.90" cy="255.60" r="1.65" fill="#3d3d3d"/>
<circle cx="87.80" cy="240.40" r="1.65" fill="#3d3d3d"/>
<circle cx="89.70" cy="237.20" r="1.65" fill="#3d3d3d"/>
<circle cx="91.60" cy="236.60" r="1.65" fill="#3d3d3d"/>
<circle cx="95.40" cy="230.30" r="1.65" fill="#3d3d3d"/>
<circle cx="97.30" cy="230.90" r="1.65" fill="#3d3d3d"/>
<circle cx="98.50" cy="234.00" r="1.65" fill="#3d3d3d"/>
<circle cx="99.80" cy="237.20" r="1.65" fill="#3d3d3d"/>
<circle cx="103.00" cy="237.20" r="1.65" fill="#3d3d3d"/>
<circle cx="108.70" cy="237.20" r="1.65" fill="#3d3d3d"/>
<circle cx="101.70" cy="243.50" r="1.65" fill="#3d3d3d"/>
<circle cx="105.50" cy="243.50" r="1.65" fill="#3d3d3d"/>
<circle cx="110.60" cy="246.70" r="1.65" fill="#3d3d3d"/>
<circle cx="112.50" cy="246.70" r="1.65" fill="#3d3d3d"/>
<circle cx="119.70" cy="233.70" r="1.65" fill="#3d3d3d"/>
<circle cx="129.80" cy="243.50" r="1.65" fill="#3d3d3d"/>
<circle cx="137.50" cy="250.00" r="1.65" fill="#3d3d3d"/>
<circle cx="146.00" cy="250.00" r="1.65" fill="#3d3d3d"/>
<circle cx="154.00" cy="250.00" r="1.65" fill="#3d3d3d"/>
<circle cx="154.50" cy="250.00" r="1.65" fill="#3d3d3d"/>
<circle cx="163.20" cy="253.00" r="1.65" fill="#3d3d3d"/>
<circle cx="171.70" cy="253.00" r="1.65" fill="#3d3d3d"/>
<circle cx="188.50" cy="265.70" r="1.65" fill="#3d3d3d"/>
<circle cx="180.40" cy="272.80" r="1.65" fill="#3d3d3d"/>
<circle cx="197.20" cy="269.40" r="1.65" fill="#3d3d3d"/>
<circle cx="206.10" cy="265.70" r="1.65" fill="#3d3d3d"/>
<circle cx="214.80" cy="272.40" r="1.65" fill="#3d3d3d"/>
<circle cx="222.90" cy="269.40" r="1.65" fill="#3d3d3d"/>
<circle cx="231.60" cy="259.70" r="1.65" fill="#3d3d3d"/>
<circle cx="240.10" cy="269.40" r="1.65" fill="#3d3d3d"/>
<circle cx="248.00" cy="265.70" r="1.65" fill="#3d3d3d"/>
<circle cx="78.90" cy="252.50" r="1.65" fill="#3d3d3d"/>
<circle cx="78.90" cy="258.90" r="1.65" fill="#3d3d3d"/>
<circle cx="78.90" cy="266.50" r="1.65" fill="#3d3d3d"/>
<circle cx="78.90" cy="269.00" r="1.65" fill="#3d3d3d"/>
<circle cx="78.90" cy="275.90" r="1.65" fill="#3d3d3d"/>
<circle cx="78.90" cy="282.30" r="1.65" fill="#3d3d3d"/>
<circle cx="78.90" cy="291.80" r="1.65" fill="#3d3d3d"/>
<circle cx="78.00" cy="314.40" r="1.65" fill="#3d3d3d"/>
<circle cx="78.50" cy="339.20" r="1.65" fill="#3d3d3d"/>
<circle cx="76.50" cy="358.00" r="1.65" fill="#3d3d3d"/>
<circle cx="87.30" cy="239.80" r="1.65" fill="#3d3d3d"/>
<circle cx="81.46" cy="227.09" r="1.65" fill="#3d3d3d"/>
<circle cx="82.72" cy="226.46" r="1.65" fill="#3d3d3d"/>
<circle cx="83.99" cy="227.72" r="1.65" fill="#3d3d3d"/>
<circle cx="82.09" cy="228.99" r="1.65" fill="#3d3d3d"/>
<circle cx="83.35" cy="229.62" r="1.65" fill="#3d3d3d"/>
<circle cx="80.82" cy="230.89" r="1.65" fill="#3d3d3d"/>
<circle cx="82.72" cy="231.52" r="1.65" fill="#3d3d3d"/>
<circle cx="83.99" cy="232.15" r="1.65" fill="#3d3d3d"/>
<circle cx="80.19" cy="232.78" r="1.65" fill="#3d3d3d"/>
<circle cx="82.09" cy="234.05" r="1.65" fill="#3d3d3d"/>
<circle cx="83.99" cy="234.05" r="1.65" fill="#3d3d3d"/>
<circle cx="79.56" cy="235.32" r="1.65" fill="#3d3d3d"/>
<circle cx="81.46" cy="235.95" r="1.65" fill="#3d3d3d"/>
<circle cx="83.35" cy="236.58" r="1.65" fill="#3d3d3d"/>
<circle cx="80.82" cy="237.85" r="1.65" fill="#3d3d3d"/>
<circle cx="85.25" cy="228.99" r="1.65" fill="#3d3d3d"/>
<circle cx="84.62" cy="225.82" r="1.65" fill="#3d3d3d"/>
<circle cx="79.94" cy="237.22" r="1.65" fill="#3d3d3d"/>
<circle cx="78.92" cy="234.05" r="1.65" fill="#3d3d3d"/>
<line x1="86.50" y1="217.60" x2="86.50" y2="230.30" stroke="#cc33cc" stroke-width="1.0"/>
<circle cx="111.30" cy="285.30" r="1.65" fill="#e8353a"/>
<circle cx="120.20" cy="295.00" r="1.65" fill="#e8353a"/>
<circle cx="129.10" cy="295.00" r="1.65" fill="#e8353a"/>
<circle cx="137.50" cy="298.50" r="1.65" fill="#e8353a"/>
<circle cx="146.10" cy="308.20" r="1.65" fill="#e8353a"/>
<circle cx="154.50" cy="311.20" r="1.65" fill="#e8353a"/>
<circle cx="162.90" cy="314.50" r="1.65" fill="#e8353a"/>
<circle cx="171.60" cy="311.20" r="1.65" fill="#e8353a"/>
<circle cx="180.50" cy="320.40" r="1.65" fill="#e8353a"/>
<circle cx="188.90" cy="330.60" r="1.65" fill="#e8353a"/>
<circle cx="197.30" cy="324.00" r="1.65" fill="#e8353a"/>
<circle cx="206.00" cy="331.60" r="1.65" fill="#e8353a"/>
<circle cx="214.40" cy="334.90" r="1.65" fill="#e8353a"/>
<circle cx="223.30" cy="332.40" r="1.65" fill="#e8353a"/>
<circle cx="231.70" cy="337.40" r="1.65" fill="#e8353a"/>
<circle cx="240.30" cy="335.70" r="1.65" fill="#e8353a"/>
<circle cx="89.40" cy="262.60" r="1.65" fill="#e8353a"/>
<circle cx="91.70" cy="265.80" r="1.65" fill="#e8353a"/>
<circle cx="94.40" cy="272.40" r="1.65" fill="#e8353a"/>
<circle cx="99.80" cy="272.80" r="1.65" fill="#e8353a"/>
<circle cx="103.00" cy="272.80" r="1.65" fill="#e8353a"/>
<circle cx="96.60" cy="282.30" r="1.65" fill="#e8353a"/>
<circle cx="106.80" cy="278.50" r="1.65" fill="#e8353a"/>
<circle cx="109.30" cy="279.70" r="1.65" fill="#e8353a"/>
<circle cx="104.30" cy="275.20" r="1.65" fill="#e8353a"/>
<circle cx="81.73" cy="261.19" r="1.65" fill="#e8353a"/>
<circle cx="81.65" cy="264.21" r="1.65" fill="#e8353a"/>
<circle cx="81.70" cy="266.30" r="1.65" fill="#e8353a"/>
<circle cx="81.91" cy="269.30" r="1.65" fill="#e8353a"/>
<circle cx="81.66" cy="271.46" r="1.65" fill="#e8353a"/>
<circle cx="82.04" cy="274.31" r="1.65" fill="#e8353a"/>
<circle cx="84.46" cy="259.49" r="1.65" fill="#e8353a"/>
<circle cx="84.02" cy="261.43" r="1.65" fill="#e8353a"/>
<circle cx="84.09" cy="264.31" r="1.65" fill="#e8353a"/>
<circle cx="84.57" cy="266.22" r="1.65" fill="#e8353a"/>
<circle cx="83.94" cy="268.79" r="1.65" fill="#e8353a"/>
<circle cx="83.99" cy="271.49" r="1.65" fill="#e8353a"/>
<circle cx="84.27" cy="273.31" r="1.65" fill="#e8353a"/>
<circle cx="86.00" cy="260.94" r="1.65" fill="#e8353a"/>
<circle cx="86.30" cy="263.55" r="1.65" fill="#e8353a"/>
<circle cx="86.76" cy="266.15" r="1.65" fill="#e8353a"/>
<circle cx="86.41" cy="268.59" r="1.65" fill="#e8353a"/>
<circle cx="86.54" cy="270.64" r="1.65" fill="#e8353a"/>
<circle cx="88.32" cy="265.22" r="1.65" fill="#e8353a"/>
<circle cx="88.30" cy="267.74" r="1.65" fill="#e8353a"/>
<circle cx="87.91" cy="269.92" r="1.65" fill="#e8353a"/>
<circle cx="79.82" cy="262.00" r="1.65" fill="#e8353a"/>
<circle cx="80.46" cy="264.50" r="1.65" fill="#e8353a"/>
<circle cx="79.77" cy="267.00" r="1.65" fill="#e8353a"/>
<circle cx="79.78" cy="269.50" r="1.65" fill="#e8353a"/>
<circle cx="79.95" cy="272.00" r="1.65" fill="#e8353a"/>
<circle cx="79.89" cy="274.50" r="1.65" fill="#e8353a"/>
<circle cx="80.11" cy="277.00" r="1.65" fill="#e8353a"/>
<circle cx="79.76" cy="279.50" r="1.65" fill="#e8353a"/>
<circle cx="79.70" cy="282.00" r="1.65" fill="#e8353a"/>
<circle cx="79.88" cy="284.50" r="1.65" fill="#e8353a"/>
<circle cx="79.82" cy="287.00" r="1.65" fill="#e8353a"/>
<circle cx="80.14" cy="289.50" r="1.65" fill="#e8353a"/>
<circle cx="79.73" cy="292.00" r="1.65" fill="#e8353a"/>
<circle cx="80.75" cy="294.50" r="1.65" fill="#e8353a"/>
<circle cx="80.44" cy="297.00" r="1.65" fill="#e8353a"/>
<circle cx="79.88" cy="299.50" r="1.65" fill="#e8353a"/>
<circle cx="80.00" cy="307.80" r="1.65" fill="#e8353a"/>
<circle cx="80.12" cy="315.70" r="1.65" fill="#e8353a"/>
<circle cx="80.14" cy="318.80" r="1.65" fill="#e8353a"/>
<circle cx="79.85" cy="320.40" r="1.65" fill="#e8353a"/>
<circle cx="80.72" cy="331.30" r="1.65" fill="#e8353a"/>
<circle cx="80.89" cy="333.70" r="1.65" fill="#e8353a"/>
<circle cx="80.26" cy="336.80" r="1.65" fill="#e8353a"/>
<circle cx="80.28" cy="339.00" r="1.65" fill="#e8353a"/>
<circle cx="79.80" cy="340.80" r="1.65" fill="#e8353a"/>
<circle cx="79.82" cy="343.90" r="1.65" fill="#e8353a"/>
<circle cx="80.11" cy="345.50" r="1.65" fill="#e8353a"/>
<circle cx="80.02" cy="347.00" r="1.65" fill="#e8353a"/>
<circle cx="80.69" cy="350.20" r="1.65" fill="#e8353a"/>
<circle cx="79.89" cy="353.30" r="1.65" fill="#e8353a"/>
<circle cx="79.73" cy="356.40" r="1.65" fill="#e8353a"/>
<polyline points="89.50,265.46 90.50,266.35 91.50,267.24 92.50,268.12 93.50,268.99 94.50,269.85 95.50,270.70 96.50,271.55 97.50,272.39 98.50,273.22 99.50,274.04 100.50,274.86 101.50,275.66 102.50,276.46 103.50,277.26 104.50,278.04 105.50,278.82 106.50,279.59 107.50,280.36 108.50,281.11 109.50,281.87 110.50,282.61 111.50,283.34 112.50,284.07 113.50,284.80 114.50,285.51 115.50,286.22 116.50,286.93 117.50,287.62 118.50,288.31 119.50,289.00 120.50,289.68 121.50,290.35 122.50,291.01 123.50,291.67 124.50,292.32 125.50,292.97 126.50,293.61 127.50,294.25 128.50,294.88 129.50,295.50 130.50,296.12 131.50,296.73 132.50,297.34 133.50,297.94 134.50,298.53 135.50,299.12 136.50,299.71 137.50,300.29 138.50,300.86 139.50,301.43 140.50,301.99 141.50,302.55 142.50,303.10 143.50,303.65 144.50,304.20 145.50,304.73 146.50,305.27 147.50,305.79 148.50,306.32 149.50,306.84 150.50,307.35 151.50,307.86 152.50,308.36 153.50,308.86 154.50,309.36 155.50,309.85 156.50,310.33 157.50,310.81 158.50,311.29 159.50,311.76 160.50,312.23 161.50,312.70 162.50,313.16 163.50,313.61 164.50,314.06 165.50,314.51 166.50,314.95 167.50,315.39 168.50,315.83 169.50,316.26 170.50,316.68 171.50,317.11 172.50,317.53 173.50,317.94 174.50,318.35 175.50,318.76 176.50,319.16 177.50,319.56 178.50,319.96 179.50,320.35 180.50,320.74 181.50,321.13 182.50,321.51 183.50,321.89 184.50,322.26 185.50,322.63 186.50,323.00 187.50,323.37 188.50,323.73 189.50,324.09 190.50,324.44 191.50,324.79 192.50,325.14 193.50,325.49 194.50,325.83 195.50,326.17 196.50,326.50 197.50,326.84 198.50,327.17 199.50,327.49 200.50,327.82 201.50,328.14 202.50,328.45 203.50,328.77 204.50,329.08 205.50,329.39 206.50,329.70 207.50,330.00 208.50,330.30 209.50,330.60 210.50,330.89 211.50,331.18 212.50,331.47 213.50,331.76 214.50,332.04 215.50,332.33 216.50,332.60 217.50,332.88 218.50,333.16 219.50,333.43 220.50,333.70 221.50,333.96 222.50,334.23 223.50,334.49 224.50,334.75 225.50,335.00 226.50,335.26 227.50,335.51 228.50,335.76 229.50,336.01 230.50,336.25 231.50,336.49 232.50,336.74 233.50,336.97 234.50,337.21 235.50,337.44 236.50,337.68 237.50,337.91 238.50,338.13 239.50,338.36" fill="none" stroke="#2a2ad8" stroke-width="1.5" stroke-linejoin="round"/>
<line x1="89.40" y1="257.30" x2="89.40" y2="260.50" stroke="#cc33ff" stroke-width="1.0"/>
<line x1="240.30" y1="329.80" x2="240.30" y2="342.50" stroke="#cc33ff" stroke-width="1.0"/>
<circle cx="187.40" cy="215.50" r="1.9" fill="#3d3d3d"/>
<circle cx="187.40" cy="225.20" r="1.8" fill="#e8353a"/>
<line x1="179.40" y1="235.40" x2="197.00" y2="235.40" stroke="#ee8a2a" stroke-width="1.6"/>
<line x1="179.40" y1="245.10" x2="197.00" y2="245.10" stroke="#2a2ad8" stroke-width="1.6"/>
<text x="199.20" y="218.50" font-size="8.5" fill="#222" stroke="#222" stroke-width="0.22" text-anchor="start" font-family='"Liberation Sans", sans-serif' textLength="15.60" lengthAdjust="spacingAndGlyphs">InSe</text>
<text x="199.20" y="228.20" font-size="8.5" fill="#222" stroke="#222" stroke-width="0.22" text-anchor="start" font-family='"Liberation Sans", sans-serif' textLength="10.40" lengthAdjust="spacingAndGlyphs">HS</text>
<text x="199.20" y="238.40" font-size="8.5" fill="#222" stroke="#222" stroke-width="0.22" text-anchor="start" font-family='"Liberation Sans", sans-serif' textLength="47.40" lengthAdjust="spacingAndGlyphs">Fitting of InSe</text>
<text x="199.20" y="248.10" font-size="8.5" fill="#222" stroke="#222" stroke-width="0.22" text-anchor="start" font-family='"Liberation Sans", sans-serif' textLength="43.40" lengthAdjust="spacingAndGlyphs">Fitting of HS</text>
<text x="138.10" y="218.90" font-size="7.4" fill="#222" stroke="#222" stroke-width="0.22" text-anchor="start" font-family='"Liberation Sans", sans-serif' textLength="15.00" lengthAdjust="spacingAndGlyphs">InSe</text>
<text x="130.00" y="228.00" font-size="7.4" fill="#222" stroke="#222" stroke-width="0.22" font-family='"Liberation Sans", sans-serif' textLength="40.00" lengthAdjust="spacingAndGlyphs">t<tspan font-size="4.81" dy="2.22">1</tspan><tspan dy="-2.22"> = 39.9 ps</tspan></text>
<text x="130.00" y="239.10" font-size="7.4" fill="#222" stroke="#222" stroke-width="0.22" font-family='"Liberation Sans", sans-serif' textLength="43.60" lengthAdjust="spacingAndGlyphs">t<tspan font-size="4.81" dy="2.22">2</tspan><tspan dy="-2.22"> = 314.3 ps</tspan></text>
<text x="102.00" y="310.90" font-size="7.4" fill="#222" stroke="#222" stroke-width="0.22" text-anchor="start" font-family='"Liberation Sans", sans-serif' textLength="10.40" lengthAdjust="spacingAndGlyphs">HS</text>
<text x="93.90" y="321.00" font-size="7.4" fill="#222" stroke="#222" stroke-width="0.22" font-family='"Liberation Sans", sans-serif' textLength="40.40" lengthAdjust="spacingAndGlyphs">t<tspan font-size="4.81" dy="2.22">1</tspan><tspan dy="-2.22"> = 58.4 ps</tspan></text>
<text x="93.90" y="332.00" font-size="7.4" fill="#222" stroke="#222" stroke-width="0.22" font-family='"Liberation Sans", sans-serif' textLength="40.40" lengthAdjust="spacingAndGlyphs">t<tspan font-size="4.81" dy="2.22">2</tspan><tspan dy="-2.22"> = 58.4 ps</tspan></text>
<text x="118.70" y="269.30" font-size="13.8" fill="#8a4a2b" stroke="#8a4a2b" stroke-width="0.22" text-anchor="start" font-family='"Liberation Sans", sans-serif' textLength="55.60" lengthAdjust="spacingAndGlyphs">B exciton</text>
<text x="115.00" y="284.50" font-size="13.8" fill="#8a4a2b" stroke="#8a4a2b" stroke-width="0.22" text-anchor="start" font-family='"Liberation Sans", sans-serif' textLength="74.80" lengthAdjust="spacingAndGlyphs">(600 nm ex)</text>
<text x="269.60" y="196.80" font-size="12" fill="#222" stroke="#222" stroke-width="0.22" text-anchor="start" font-family='"Liberation Sans", sans-serif' textLength="14.50" lengthAdjust="spacingAndGlyphs">(d)</text>
<rect x="343.50" y="209.00" width="197.80" height="154.60" fill="none" stroke="#666666" stroke-width="1.1"/>
<line x1="359.10" y1="363.60" x2="359.10" y2="359.60" stroke="#666666" stroke-width="1"/>
<line x1="429.45" y1="363.60" x2="429.45" y2="359.60" stroke="#666666" stroke-width="1"/>
<line x1="499.80" y1="363.60" x2="499.80" y2="359.60" stroke="#666666" stroke-width="1"/>
<line x1="394.28" y1="363.60" x2="394.28" y2="361.40" stroke="#666666" stroke-width="1"/>
<line x1="464.62" y1="363.60" x2="464.62" y2="361.40" stroke="#666666" stroke-width="1"/>
<line x1="534.98" y1="363.60" x2="534.98" y2="361.40" stroke="#666666" stroke-width="1"/>
<line x1="343.50" y1="347.40" x2="347.50" y2="347.40" stroke="#666666" stroke-width="1"/>
<line x1="343.50" y1="322.90" x2="347.50" y2="322.90" stroke="#666666" stroke-width="1"/>
<line x1="343.50" y1="298.40" x2="347.50" y2="298.40" stroke="#666666" stroke-width="1"/>
<line x1="343.50" y1="273.90" x2="347.50" y2="273.90" stroke="#666666" stroke-width="1"/>
<line x1="343.50" y1="249.40" x2="347.50" y2="249.40" stroke="#666666" stroke-width="1"/>
<line x1="343.50" y1="224.90" x2="347.50" y2="224.90" stroke="#666666" stroke-width="1"/>
<line x1="343.50" y1="335.15" x2="345.70" y2="335.15" stroke="#666666" stroke-width="1"/>
<line x1="343.50" y1="310.65" x2="345.70" y2="310.65" stroke="#666666" stroke-width="1"/>
<line x1="343.50" y1="286.15" x2="345.70" y2="286.15" stroke="#666666" stroke-width="1"/>
<line x1="343.50" y1="261.65" x2="345.70" y2="261.65" stroke="#666666" stroke-width="1"/>
<line x1="343.50" y1="237.15" x2="345.70" y2="237.15" stroke="#666666" stroke-width="1"/>
<text x="359.10" y="376.30" font-size="10.6" fill="#222" stroke="#222" stroke-width="0.22" text-anchor="middle" font-family='"Liberation Sans", sans-serif'>0</text>
<text x="429.45" y="376.30" font-size="10.6" fill="#222" stroke="#222" stroke-width="0.22" text-anchor="middle" font-family='"Liberation Sans", sans-serif'>100</text>
<text x="499.80" y="376.30" font-size="10.6" fill="#222" stroke="#222" stroke-width="0.22" text-anchor="middle" font-family='"Liberation Sans", sans-serif'>200</text>
<text x="340.00" y="350.90" font-size="10.6" fill="#222" stroke="#222" stroke-width="0.22" text-anchor="end" font-family='"Liberation Sans", sans-serif'>0.000</text>
<text x="340.00" y="326.40" font-size="10.6" fill="#222" stroke="#222" stroke-width="0.22" text-anchor="end" font-family='"Liberation Sans", sans-serif'>0.001</text>
<text x="340.00" y="301.90" font-size="10.6" fill="#222" stroke="#222" stroke-width="0.22" text-anchor="end" font-family='"Liberation Sans", sans-serif'>0.002</text>
<text x="340.00" y="277.40" font-size="10.6" fill="#222" stroke="#222" stroke-width="0.22" text-anchor="end" font-family='"Liberation Sans", sans-serif'>0.003</text>
<text x="340.00" y="252.90" font-size="10.6" fill="#222" stroke="#222" stroke-width="0.22" text-anchor="end" font-family='"Liberation Sans", sans-serif'>0.004</text>
<text x="340.00" y="228.40" font-size="10.6" fill="#222" stroke="#222" stroke-width="0.22" text-anchor="end" font-family='"Liberation Sans", sans-serif'>0.005</text>
<text x="405.40" y="389.00" font-size="10" fill="#222" stroke="#222" stroke-width="0.22" text-anchor="start" font-family='"Liberation Sans", sans-serif' textLength="73.40" lengthAdjust="spacingAndGlyphs">Delay time (ps)</text>
<text x="300.1" y="271.8" font-size="9.5" fill="#444" text-anchor="middle" font-family='"Liberation Serif", serif'>Δ<tspan font-style="italic">T</tspan></text>
<line x1="292.70" y1="274.90" x2="307.20" y2="274.90" stroke="#555" stroke-width="0.8"/>
<text x="299.9" y="284.8" font-size="9.5" fill="#444" text-anchor="middle" font-family='"Liberation Serif", serif' font-style="italic">T</text>
<circle cx="369.60" cy="220.00" r="1.65" fill="#3d3d3d"/>
<circle cx="372.20" cy="228.90" r="1.65" fill="#3d3d3d"/>
<circle cx="373.40" cy="230.20" r="1.65" fill="#3d3d3d"/>
<circle cx="380.40" cy="229.50" r="1.65" fill="#3d3d3d"/>
<circle cx="376.60" cy="237.10" r="1.65" fill="#3d3d3d"/>
<circle cx="383.50" cy="239.00" r="1.65" fill="#3d3d3d"/>
<circle cx="387.30" cy="244.70" r="1.65" fill="#3d3d3d"/>
<circle cx="359.90" cy="237.10" r="1.65" fill="#3d3d3d"/>
<circle cx="359.90" cy="244.70" r="1.65" fill="#3d3d3d"/>
<circle cx="359.50" cy="254.20" r="1.65" fill="#3d3d3d"/>
<circle cx="380.50" cy="229.70" r="1.65" fill="#3d3d3d"/>
<circle cx="376.40" cy="236.80" r="1.65" fill="#3d3d3d"/>
<circle cx="383.50" cy="239.40" r="1.65" fill="#3d3d3d"/>
<circle cx="387.60" cy="244.50" r="1.65" fill="#3d3d3d"/>
<circle cx="391.60" cy="241.80" r="1.65" fill="#3d3d3d"/>
<circle cx="394.70" cy="243.50" r="1.65" fill="#3d3d3d"/>
<circle cx="398.30" cy="244.10" r="1.65" fill="#3d3d3d"/>
<circle cx="400.70" cy="253.60" r="1.65" fill="#3d3d3d"/>
<circle cx="404.80" cy="253.60" r="1.65" fill="#3d3d3d"/>
<circle cx="407.80" cy="258.60" r="1.65" fill="#3d3d3d"/>
<circle cx="411.90" cy="256.60" r="1.65" fill="#3d3d3d"/>
<circle cx="415.30" cy="252.00" r="1.65" fill="#3d3d3d"/>
<circle cx="419.00" cy="264.10" r="1.65" fill="#3d3d3d"/>
<circle cx="422.60" cy="261.70" r="1.65" fill="#3d3d3d"/>
<circle cx="426.00" cy="265.70" r="1.65" fill="#3d3d3d"/>
<circle cx="429.50" cy="259.30" r="1.65" fill="#3d3d3d"/>
<circle cx="447.50" cy="274.30" r="1.65" fill="#3d3d3d"/>
<circle cx="464.90" cy="274.30" r="1.65" fill="#3d3d3d"/>
<circle cx="482.40" cy="288.40" r="1.65" fill="#3d3d3d"/>
<circle cx="500.30" cy="291.20" r="1.65" fill="#3d3d3d"/>
<circle cx="517.90" cy="298.80" r="1.65" fill="#3d3d3d"/>
<circle cx="535.80" cy="296.00" r="1.65" fill="#3d3d3d"/>
<circle cx="359.60" cy="300.50" r="1.65" fill="#3d3d3d"/>
<circle cx="359.60" cy="319.90" r="1.65" fill="#3d3d3d"/>
<circle cx="359.60" cy="327.80" r="1.65" fill="#3d3d3d"/>
<circle cx="359.60" cy="357.40" r="1.65" fill="#3d3d3d"/>
<circle cx="363.78" cy="223.47" r="1.65" fill="#3d3d3d"/>
<circle cx="360.16" cy="223.75" r="1.65" fill="#3d3d3d"/>
<circle cx="359.62" cy="223.47" r="1.65" fill="#3d3d3d"/>
<circle cx="363.90" cy="229.67" r="1.65" fill="#3d3d3d"/>
<circle cx="362.63" cy="218.53" r="1.65" fill="#3d3d3d"/>
<circle cx="361.15" cy="216.79" r="1.65" fill="#3d3d3d"/>
<circle cx="362.97" cy="223.55" r="1.65" fill="#3d3d3d"/>
<circle cx="363.01" cy="219.80" r="1.65" fill="#3d3d3d"/>
<circle cx="360.50" cy="228.71" r="1.65" fill="#3d3d3d"/>
<circle cx="363.93" cy="229.47" r="1.65" fill="#3d3d3d"/>
<circle cx="363.13" cy="228.84" r="1.65" fill="#3d3d3d"/>
<circle cx="362.83" cy="217.89" r="1.65" fill="#3d3d3d"/>
<circle cx="361.83" cy="220.28" r="1.65" fill="#3d3d3d"/>
<circle cx="359.63" cy="214.22" r="1.65" fill="#3d3d3d"/>
<circle cx="360.76" cy="218.49" r="1.65" fill="#3d3d3d"/>
<circle cx="362.62" cy="231.40" r="1.65" fill="#3d3d3d"/>
<circle cx="361.51" cy="231.03" r="1.65" fill="#3d3d3d"/>
<circle cx="363.95" cy="231.37" r="1.65" fill="#3d3d3d"/>
<circle cx="361.14" cy="217.78" r="1.65" fill="#3d3d3d"/>
<circle cx="360.52" cy="217.34" r="1.65" fill="#3d3d3d"/>
<circle cx="360.42" cy="225.25" r="1.65" fill="#3d3d3d"/>
<circle cx="363.55" cy="229.25" r="1.65" fill="#3d3d3d"/>
<circle cx="361.66" cy="225.78" r="1.65" fill="#3d3d3d"/>
<circle cx="363.10" cy="215.27" r="1.65" fill="#3d3d3d"/>
<circle cx="362.47" cy="230.53" r="1.65" fill="#3d3d3d"/>
<circle cx="363.02" cy="227.58" r="1.65" fill="#3d3d3d"/>
<circle cx="361.65" cy="217.00" r="1.65" fill="#3d3d3d"/>
<circle cx="363.05" cy="219.85" r="1.65" fill="#3d3d3d"/>
<circle cx="363.10" cy="231.68" r="1.65" fill="#3d3d3d"/>
<circle cx="361.28" cy="221.13" r="1.65" fill="#3d3d3d"/>
<circle cx="366.00" cy="216.00" r="1.65" fill="#3d3d3d"/>
<circle cx="367.00" cy="219.00" r="1.65" fill="#3d3d3d"/>
<circle cx="364.50" cy="223.00" r="1.65" fill="#3d3d3d"/>
<circle cx="368.00" cy="224.00" r="1.65" fill="#3d3d3d"/>
<polyline points="365.20,221.90 365.77,222.41 366.47,223.06 367.29,223.81 368.21,224.66 369.22,225.58 370.29,226.56 371.40,227.57 372.54,228.60 373.69,229.62 374.83,230.63 375.94,231.59 377.00,232.50 378.02,233.36 379.02,234.21 380.00,235.05 380.99,235.89 381.98,236.72 382.99,237.55 384.03,238.39 385.10,239.24 386.23,240.10 387.41,240.98 388.67,241.88 390.00,242.80 391.42,243.76 392.93,244.74 394.51,245.76 396.15,246.79 397.84,247.83 399.56,248.89 401.31,249.94 403.07,250.99 404.84,252.03 406.59,253.04 408.31,254.04 410.00,255.00 411.70,255.95 413.45,256.92 415.23,257.88 417.04,258.84 418.84,259.79 420.62,260.72 422.38,261.62 424.07,262.49 425.70,263.32 427.25,264.11 428.68,264.83 430.00,265.50 431.15,266.08 432.13,266.58 432.97,267.01 433.70,267.37 434.37,267.70 435.00,268.01 435.63,268.30 436.30,268.60 437.03,268.93 437.87,269.29 438.85,269.71 440.00,270.20 441.31,270.75 442.75,271.36 444.29,272.00 445.91,272.67 447.60,273.36 449.34,274.07 451.12,274.78 452.93,275.50 454.73,276.21 456.52,276.90 458.28,277.56 460.00,278.20 461.66,278.80 463.28,279.39 464.88,279.95 466.46,280.50 468.05,281.05 469.66,281.59 471.29,282.13 472.98,282.67 474.73,283.23 476.56,283.80 478.47,284.39 480.50,285.00 482.64,285.63 484.88,286.29 487.21,286.95 489.61,287.63 492.08,288.32 494.59,289.02 497.15,289.72 499.72,290.42 502.31,291.12 504.89,291.82 507.46,292.52 510.00,293.20 512.63,293.90 515.44,294.65 518.37,295.42 521.37,296.21 524.38,296.99 527.34,297.76 530.21,298.50 532.91,299.20 535.39,299.85 537.61,300.42 539.50,300.91 541.00,301.30" fill="none" stroke="#ee8a2a" stroke-width="1.5" stroke-linejoin="round"/>
<line x1="365.20" y1="216.20" x2="365.20" y2="228.30" stroke="#cc33cc" stroke-width="1.0"/>
<circle cx="361.00" cy="251.80" r="1.65" fill="#e8353a"/>
<circle cx="364.80" cy="268.60" r="1.65" fill="#e8353a"/>
<circle cx="367.00" cy="273.10" r="1.65" fill="#e8353a"/>
<circle cx="369.30" cy="276.20" r="1.65" fill="#e8353a"/>
<circle cx="367.30" cy="281.50" r="1.65" fill="#e8353a"/>
<circle cx="372.20" cy="281.50" r="1.65" fill="#e8353a"/>
<circle cx="368.10" cy="286.50" r="1.65" fill="#e8353a"/>
<circle cx="371.40" cy="288.90" r="1.65" fill="#e8353a"/>
<circle cx="373.80" cy="286.50" r="1.65" fill="#e8353a"/>
<circle cx="377.10" cy="291.40" r="1.65" fill="#e8353a"/>
<circle cx="380.40" cy="298.70" r="1.65" fill="#e8353a"/>
<circle cx="383.60" cy="298.70" r="1.65" fill="#e8353a"/>
<circle cx="387.70" cy="305.80" r="1.65" fill="#e8353a"/>
<circle cx="391.00" cy="303.10" r="1.65" fill="#e8353a"/>
<circle cx="394.30" cy="313.50" r="1.65" fill="#e8353a"/>
<circle cx="397.90" cy="298.70" r="1.65" fill="#e8353a"/>
<circle cx="401.60" cy="305.80" r="1.65" fill="#e8353a"/>
<circle cx="404.90" cy="305.80" r="1.65" fill="#e8353a"/>
<circle cx="408.20" cy="324.10" r="1.65" fill="#e8353a"/>
<circle cx="411.90" cy="315.90" r="1.65" fill="#e8353a"/>
<circle cx="415.50" cy="318.40" r="1.65" fill="#e8353a"/>
<circle cx="419.10" cy="315.60" r="1.65" fill="#e8353a"/>
<circle cx="422.90" cy="317.50" r="1.65" fill="#e8353a"/>
<circle cx="426.20" cy="313.50" r="1.65" fill="#e8353a"/>
<circle cx="429.50" cy="323.60" r="1.65" fill="#e8353a"/>
<circle cx="447.50" cy="329.20" r="1.65" fill="#e8353a"/>
<circle cx="464.90" cy="333.50" r="1.65" fill="#e8353a"/>
<circle cx="482.40" cy="337.90" r="1.65" fill="#e8353a"/>
<circle cx="500.30" cy="337.90" r="1.65" fill="#e8353a"/>
<circle cx="517.90" cy="334.20" r="1.65" fill="#e8353a"/>
<circle cx="535.80" cy="341.40" r="1.65" fill="#e8353a"/>
<circle cx="359.83" cy="256.22" r="1.65" fill="#e8353a"/>
<circle cx="358.74" cy="257.63" r="1.65" fill="#e8353a"/>
<circle cx="358.71" cy="260.40" r="1.65" fill="#e8353a"/>
<circle cx="359.63" cy="261.65" r="1.65" fill="#e8353a"/>
<circle cx="359.66" cy="264.48" r="1.65" fill="#e8353a"/>
<circle cx="359.42" cy="265.85" r="1.65" fill="#e8353a"/>
<circle cx="359.27" cy="267.63" r="1.65" fill="#e8353a"/>
<circle cx="358.52" cy="270.47" r="1.65" fill="#e8353a"/>
<circle cx="359.41" cy="272.03" r="1.65" fill="#e8353a"/>
<circle cx="359.81" cy="273.93" r="1.65" fill="#e8353a"/>
<circle cx="359.72" cy="276.33" r="1.65" fill="#e8353a"/>
<circle cx="358.80" cy="277.75" r="1.65" fill="#e8353a"/>
<circle cx="358.91" cy="279.74" r="1.65" fill="#e8353a"/>
<circle cx="359.32" cy="281.76" r="1.65" fill="#e8353a"/>
<circle cx="359.09" cy="283.63" r="1.65" fill="#e8353a"/>
<circle cx="359.77" cy="285.85" r="1.65" fill="#e8353a"/>
<circle cx="361.54" cy="256.08" r="1.65" fill="#e8353a"/>
<circle cx="362.17" cy="257.92" r="1.65" fill="#e8353a"/>
<circle cx="362.18" cy="260.00" r="1.65" fill="#e8353a"/>
<circle cx="361.64" cy="262.02" r="1.65" fill="#e8353a"/>
<circle cx="360.93" cy="263.94" r="1.65" fill="#e8353a"/>
<circle cx="361.16" cy="265.50" r="1.65" fill="#e8353a"/>
<circle cx="362.02" cy="267.67" r="1.65" fill="#e8353a"/>
<circle cx="361.56" cy="270.23" r="1.65" fill="#e8353a"/>
<circle cx="361.68" cy="271.83" r="1.65" fill="#e8353a"/>
<circle cx="361.63" cy="274.06" r="1.65" fill="#e8353a"/>
<circle cx="362.00" cy="275.61" r="1.65" fill="#e8353a"/>
<circle cx="361.68" cy="277.75" r="1.65" fill="#e8353a"/>
<circle cx="361.29" cy="280.27" r="1.65" fill="#e8353a"/>
<circle cx="361.61" cy="282.06" r="1.65" fill="#e8353a"/>
<circle cx="361.96" cy="284.41" r="1.65" fill="#e8353a"/>
<circle cx="361.52" cy="286.11" r="1.65" fill="#e8353a"/>
<circle cx="358.61" cy="289.00" r="1.65" fill="#e8353a"/>
<circle cx="358.62" cy="293.00" r="1.65" fill="#e8353a"/>
<circle cx="358.91" cy="296.30" r="1.65" fill="#e8353a"/>
<circle cx="358.52" cy="299.50" r="1.65" fill="#e8353a"/>
<circle cx="358.65" cy="303.60" r="1.65" fill="#e8353a"/>
<circle cx="358.56" cy="306.50" r="1.65" fill="#e8353a"/>
<circle cx="359.31" cy="310.20" r="1.65" fill="#e8353a"/>
<circle cx="358.92" cy="312.50" r="1.65" fill="#e8353a"/>
<circle cx="359.20" cy="315.10" r="1.65" fill="#e8353a"/>
<circle cx="359.31" cy="317.50" r="1.65" fill="#e8353a"/>
<circle cx="358.22" cy="320.00" r="1.65" fill="#e8353a"/>
<circle cx="358.70" cy="324.10" r="1.65" fill="#e8353a"/>
<circle cx="359.31" cy="328.20" r="1.65" fill="#e8353a"/>
<circle cx="359.14" cy="332.30" r="1.65" fill="#e8353a"/>
<circle cx="358.02" cy="335.00" r="1.65" fill="#e8353a"/>
<circle cx="357.99" cy="338.00" r="1.65" fill="#e8353a"/>
<circle cx="358.51" cy="341.00" r="1.65" fill="#e8353a"/>
<circle cx="357.92" cy="344.00" r="1.65" fill="#e8353a"/>
<circle cx="358.19" cy="347.00" r="1.65" fill="#e8353a"/>
<circle cx="357.92" cy="350.00" r="1.65" fill="#e8353a"/>
<circle cx="358.87" cy="353.00" r="1.65" fill="#e8353a"/>
<line x1="362.50" y1="263.20" x2="362.50" y2="273.90" stroke="#cc33cc" stroke-width="1.0"/>
<polyline points="362.30,266.70 362.41,267.10 362.54,267.60 362.69,268.19 362.85,268.84 363.03,269.56 363.22,270.32 363.44,271.11 363.67,271.91 363.93,272.72 364.20,273.51 364.49,274.27 364.80,275.00 365.14,275.71 365.50,276.42 365.88,277.15 366.29,277.87 366.72,278.60 367.16,279.33 367.62,280.05 368.09,280.77 368.56,281.48 369.04,282.17 369.52,282.84 370.00,283.50 370.47,284.12 370.93,284.70 371.38,285.25 371.83,285.78 372.29,286.30 372.76,286.81 373.26,287.34 373.78,287.89 374.34,288.47 374.94,289.09 375.59,289.76 376.30,290.50 377.06,291.31 377.85,292.18 378.67,293.10 379.54,294.06 380.44,295.06 381.37,296.07 382.34,297.10 383.34,298.13 384.38,299.14 385.45,300.13 386.56,301.09 387.70,302.00 388.89,302.89 390.14,303.77 391.45,304.64 392.80,305.51 394.18,306.37 395.59,307.21 397.01,308.03 398.45,308.83 399.88,309.61 401.31,310.37 402.72,311.10 404.10,311.80 405.49,312.47 406.90,313.12 408.34,313.75 409.79,314.36 411.23,314.94 412.67,315.50 414.08,316.04 415.47,316.56 416.81,317.05 418.11,317.52 419.34,317.97 420.50,318.40 421.57,318.79 422.55,319.15 423.46,319.46 424.31,319.75 425.12,320.02 425.90,320.27 426.68,320.51 427.46,320.75 428.27,320.99 429.12,321.24 430.02,321.51 431.00,321.80 432.01,322.10 433.00,322.40 434.00,322.70 435.00,322.99 436.03,323.29 437.09,323.60 438.21,323.91 439.39,324.24 440.64,324.58 441.99,324.93 443.44,325.31 445.00,325.70 446.68,326.12 448.47,326.57 450.36,327.05 452.33,327.55 454.38,328.06 456.50,328.58 458.67,329.09 460.89,329.61 463.14,330.11 465.42,330.60 467.71,331.06 470.00,331.50 472.29,331.91 474.58,332.30 476.89,332.68 479.22,333.04 481.59,333.39 484.00,333.73 486.47,334.07 489.00,334.41 491.61,334.75 494.31,335.09 497.10,335.44 500.00,335.80 503.16,336.18 506.67,336.59 510.44,337.02 514.37,337.45 518.38,337.89 522.38,338.32 526.27,338.73 529.96,339.13 533.38,339.49 536.41,339.81 538.98,340.08 541.00,340.30" fill="none" stroke="#2a2ad8" stroke-width="1.5" stroke-linejoin="round"/>
<circle cx="477.50" cy="216.50" r="1.9" fill="#3d3d3d"/>
<circle cx="477.50" cy="226.30" r="1.8" fill="#e8353a"/>
<line x1="469.40" y1="236.40" x2="486.60" y2="236.40" stroke="#ee8a2a" stroke-width="1.6"/>
<line x1="469.40" y1="246.10" x2="486.60" y2="246.10" stroke="#2a2ad8" stroke-width="1.6"/>
<text x="489.20" y="219.50" font-size="8.5" fill="#222" stroke="#222" stroke-width="0.22" text-anchor="start" font-family='"Liberation Sans", sans-serif' textLength="15.60" lengthAdjust="spacingAndGlyphs">InSe</text>
<text x="489.20" y="229.30" font-size="8.5" fill="#222" stroke="#222" stroke-width="0.22" text-anchor="start" font-family='"Liberation Sans", sans-serif' textLength="10.40" lengthAdjust="spacingAndGlyphs">HS</text>
<text x="489.20" y="239.40" font-size="8.5" fill="#222" stroke="#222" stroke-width="0.22" text-anchor="start" font-family='"Liberation Sans", sans-serif' textLength="48.60" lengthAdjust="spacingAndGlyphs">Fitting of InSe</text>
<text x="489.20" y="249.10" font-size="8.5" fill="#222" stroke="#222" stroke-width="0.22" text-anchor="start" font-family='"Liberation Sans", sans-serif' textLength="44.00" lengthAdjust="spacingAndGlyphs">Fitting of HS</text>
<text x="423.20" y="219.10" font-size="7.4" fill="#222" stroke="#222" stroke-width="0.22" text-anchor="start" font-family='"Liberation Sans", sans-serif' textLength="15.00" lengthAdjust="spacingAndGlyphs">InSe</text>
<text x="413.50" y="232.30" font-size="7.4" fill="#222" stroke="#222" stroke-width="0.22" font-family='"Liberation Sans", sans-serif' textLength="40.30" lengthAdjust="spacingAndGlyphs">t<tspan font-size="4.81" dy="2.22">1</tspan><tspan dy="-2.22"> = 26.3 ps</tspan></text>
<text x="413.50" y="245.30" font-size="7.4" fill="#222" stroke="#222" stroke-width="0.22" font-family='"Liberation Sans", sans-serif' textLength="44.90" lengthAdjust="spacingAndGlyphs">t<tspan font-size="4.81" dy="2.22">2</tspan><tspan dy="-2.22"> = 215.7 ps</tspan></text>
<text x="378.50" y="330.60" font-size="7.4" fill="#222" stroke="#222" stroke-width="0.22" text-anchor="start" font-family='"Liberation Sans", sans-serif' textLength="10.40" lengthAdjust="spacingAndGlyphs">HS</text>
<text x="369.40" y="343.30" font-size="7.4" fill="#222" stroke="#222" stroke-width="0.22" font-family='"Liberation Sans", sans-serif' textLength="40.40" lengthAdjust="spacingAndGlyphs">t<tspan font-size="4.81" dy="2.22">1</tspan><tspan dy="-2.22"> = 16.2 ps</tspan></text>
<text x="369.40" y="356.90" font-size="7.4" fill="#222" stroke="#222" stroke-width="0.22" font-family='"Liberation Sans", sans-serif' textLength="45.00" lengthAdjust="spacingAndGlyphs">t<tspan font-size="4.81" dy="2.22">2</tspan><tspan dy="-2.22"> = 103.8 ps</tspan></text>
<text x="419.80" y="293.30" font-size="13.8" fill="#8a4a2b" stroke="#8a4a2b" stroke-width="0.22" text-anchor="start" font-family='"Liberation Sans", sans-serif' textLength="55.30" lengthAdjust="spacingAndGlyphs">B exciton</text>
<text x="416.60" y="309.30" font-size="13.8" fill="#8a4a2b" stroke="#8a4a2b" stroke-width="0.22" text-anchor="start" font-family='"Liberation Sans", sans-serif' textLength="74.00" lengthAdjust="spacingAndGlyphs">(375 nm ex)</text>
</svg></body></html>
